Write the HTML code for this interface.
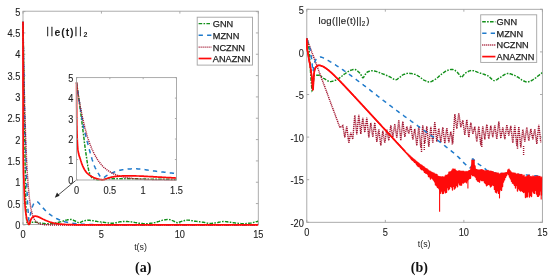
<!DOCTYPE html>
<html><head><meta charset="utf-8"><title>Error norm plots</title>
<style>html,body{margin:0;padding:0;background:#fff;}svg{display:block;}</style></head>
<body><svg width="550" height="278" viewBox="0 0 550 278">
<rect width="550" height="278" fill="#fff"/>
<defs><clipPath id="cl"><rect x="21.8" y="11.2" width="236.5" height="214.8"/></clipPath><clipPath id="ci"><rect x="75.3" y="77.6" width="101.2" height="103.9"/></clipPath><clipPath id="cr"><rect x="305.8" y="9.3" width="236.59999999999997" height="213.0"/></clipPath></defs>
<rect x="23.0" y="11.2" width="235.30" height="213.30" fill="none" stroke="#a3a3a3" stroke-width="0.9"/>
<path d="M23.00 224.50v-2.4M23.00 11.20v2.4M101.43 224.50v-2.4M101.43 11.20v2.4M179.87 224.50v-2.4M179.87 11.20v2.4M258.30 224.50v-2.4M258.30 11.20v2.4M23.00 224.90h2.4M258.30 224.90h-2.4M23.00 203.57h2.4M258.30 203.57h-2.4M23.00 182.24h2.4M258.30 182.24h-2.4M23.00 160.91h2.4M258.30 160.91h-2.4M23.00 139.58h2.4M258.30 139.58h-2.4M23.00 118.25h2.4M258.30 118.25h-2.4M23.00 96.92h2.4M258.30 96.92h-2.4M23.00 75.59h2.4M258.30 75.59h-2.4M23.00 54.26h2.4M258.30 54.26h-2.4M23.00 32.93h2.4M258.30 32.93h-2.4M23.00 11.60h2.4M258.30 11.60h-2.4" stroke="#a3a3a3" stroke-width="0.9" fill="none"/>
<polyline clip-path="url(#cl)" fill="none" stroke="#12901a" stroke-width="1.45" stroke-dasharray="3.6 1.3 1.6 1.3" points="23.0,21.8 23.0,22.7 23.0,23.6 23.0,24.4 23.1,25.3 23.1,26.2 23.1,27.1 23.1,28.0 23.1,28.9 23.1,29.9 23.2,30.8 23.2,31.8 23.2,32.7 23.2,33.7 23.2,34.6 23.2,35.6 23.3,36.6 23.3,37.6 23.3,38.6 23.3,39.6 23.4,45.0 23.5,50.1 23.5,55.2 23.6,60.3 23.7,65.5 23.8,70.7 23.9,76.0 23.9,81.4 24.0,86.8 24.1,92.2 24.2,97.8 24.3,103.3 24.3,108.9 24.4,114.5 24.5,120.1 24.6,125.6 24.6,131.2 24.7,136.6 24.8,142.1 24.9,147.4 25.0,152.6 25.0,157.8 25.1,162.8 25.2,167.7 25.3,172.4 25.4,177.0 25.4,181.8 25.5,186.6 25.6,191.2 25.7,195.4 25.7,199.3 25.8,202.7 25.9,205.6 26.0,208.2 26.1,210.4 26.1,212.4 26.2,214.1 26.3,215.7 26.4,217.0 26.4,218.2 26.5,219.2 26.6,220.0 26.7,220.7 26.8,221.8 27.0,222.5 27.2,223.3 27.5,223.8 28.0,224.3 28.6,224.4 29.2,224.2 29.6,223.7 29.9,223.1 30.2,222.5 30.7,222.2 31.3,222.2 31.9,222.2 32.6,222.2 33.2,222.2 33.8,222.2 34.4,222.2 35.1,222.2 35.7,222.2 36.3,222.3 36.9,222.4 37.6,222.5 38.2,222.7 38.8,222.8 39.5,222.9 40.1,223.0 40.7,223.1 41.3,223.2 42.0,223.3 42.6,223.3 43.2,223.4 43.8,223.5 44.5,223.5 45.1,223.6 45.7,223.6 46.4,223.6 47.0,223.6 47.6,223.6 48.2,223.6 48.9,223.5 49.5,223.5 50.1,223.5 50.7,223.4 51.4,223.4 52.0,223.3 52.6,223.3 53.2,223.2 53.9,223.2 54.5,223.1 55.1,223.0 55.8,222.9 56.4,222.8 57.0,222.6 57.6,222.5 58.3,222.4 58.9,222.2 59.5,222.0 60.1,221.9 60.8,221.7 61.4,221.5 62.0,221.4 62.6,221.2 63.3,221.0 63.9,220.8 64.5,220.6 65.2,220.4 65.8,220.2 66.4,220.1 67.0,220.0 67.7,219.8 68.3,219.7 68.9,219.6 69.5,219.5 70.2,219.4 70.8,219.4 71.4,219.5 72.1,219.7 72.7,219.9 73.3,220.2 73.9,220.5 74.6,220.7 75.2,221.0 75.7,221.3 76.3,221.6 76.8,221.9 77.4,222.2 77.9,222.4 78.5,222.7 79.1,222.9 79.7,222.7 80.3,222.4 80.8,222.1 81.4,221.9 81.9,221.6 82.5,221.3 83.0,221.1 83.6,220.9 84.3,220.7 84.9,220.6 85.5,220.5 86.2,220.4 86.8,220.4 87.4,220.3 88.0,220.3 88.7,220.3 89.3,220.3 89.9,220.3 90.5,220.4 91.2,220.4 91.8,220.5 92.4,220.6 93.0,220.7 93.7,220.8 94.3,220.9 94.9,221.1 95.6,221.2 96.2,221.3 96.8,221.4 97.4,221.5 98.1,221.6 98.7,221.6 99.3,221.7 99.9,221.8 100.6,221.9 101.2,222.0 101.8,222.1 102.5,222.2 103.1,222.2 103.7,222.3 104.3,222.4 105.0,222.5 105.6,222.6 106.2,222.6 106.8,222.7 107.5,222.8 108.1,222.9 108.7,223.0 109.3,223.1 110.0,223.2 110.6,223.2 111.2,223.3 111.9,223.3 112.5,223.3 113.1,223.2 113.7,223.1 114.4,223.0 115.0,222.9 115.6,222.8 116.2,222.7 116.9,222.5 117.5,222.4 118.1,222.2 118.7,222.1 119.4,221.9 120.0,221.8 120.6,221.8 121.3,221.7 121.9,221.6 122.5,221.6 123.1,221.5 123.8,221.5 124.4,221.4 125.0,221.4 125.6,221.4 126.3,221.5 126.9,221.5 127.5,221.5 128.2,221.6 128.8,221.6 129.4,221.7 130.0,221.8 130.7,221.8 131.3,221.9 131.9,222.0 132.5,222.1 133.2,222.2 133.8,222.3 134.4,222.4 135.0,222.5 135.7,222.6 136.3,222.7 136.9,222.8 137.6,223.0 138.2,223.1 138.8,223.2 139.4,223.3 140.1,223.3 140.7,223.4 141.3,223.5 141.9,223.5 142.6,223.5 143.2,223.6 143.8,223.6 144.5,223.6 145.1,223.7 145.7,223.7 146.3,223.6 147.0,223.6 147.6,223.6 148.2,223.5 148.8,223.5 149.5,223.4 150.1,223.3 150.7,223.3 151.3,223.2 152.0,223.1 152.6,223.0 153.2,222.9 153.9,222.8 154.5,222.6 155.1,222.5 155.7,222.3 156.4,222.1 157.0,222.0 157.6,221.8 158.2,221.6 158.9,221.4 159.5,221.2 160.1,221.0 160.7,220.8 161.4,220.6 162.0,220.4 162.6,220.2 163.3,220.1 163.9,220.0 164.5,219.9 165.1,219.8 165.8,219.7 166.4,219.6 167.0,219.5 167.6,219.4 168.3,219.4 168.9,219.5 169.5,219.6 170.2,219.7 170.8,219.9 171.4,220.2 172.0,220.4 172.7,220.6 173.2,220.9 173.8,221.2 174.3,221.5 174.9,221.7 175.4,222.0 175.9,222.3 176.6,222.5 177.2,222.7 177.8,222.7 178.5,222.6 179.0,222.3 179.6,222.0 180.3,221.8 180.9,221.6 181.5,221.4 182.1,221.2 182.8,221.0 183.4,220.8 184.0,220.7 184.6,220.5 185.3,220.4 185.9,220.3 186.5,220.2 187.2,220.1 187.8,220.1 188.4,220.1 189.0,220.2 189.7,220.2 190.3,220.3 190.9,220.4 191.5,220.6 192.2,220.7 192.8,220.8 193.4,220.9 194.0,221.0 194.7,221.2 195.3,221.3 195.9,221.3 196.6,221.4 197.2,221.5 197.8,221.6 198.4,221.7 199.1,221.7 199.7,221.8 200.3,221.9 200.9,222.0 201.6,222.0 202.2,222.1 202.8,222.2 203.5,222.3 204.1,222.4 204.7,222.5 205.3,222.6 206.0,222.8 206.6,222.9 207.2,223.1 207.8,223.2 208.5,223.3 209.1,223.4 209.7,223.4 210.3,223.4 211.0,223.4 211.6,223.4 212.2,223.3 212.9,223.3 213.5,223.2 214.1,223.1 214.7,223.0 215.4,222.9 216.0,222.8 216.6,222.7 217.2,222.6 217.9,222.5 218.5,222.3 219.1,222.2 219.7,222.1 220.4,221.9 221.0,221.8 221.6,221.7 222.3,221.6 222.9,221.5 223.5,221.5 224.1,221.5 224.8,221.5 225.4,221.6 226.0,221.6 226.6,221.7 227.3,221.8 227.9,221.9 228.5,221.9 229.2,222.0 229.8,222.1 230.4,222.2 231.0,222.3 231.7,222.4 232.3,222.5 232.9,222.6 233.5,222.7 234.2,222.8 234.8,222.9 235.4,223.0 236.0,223.1 236.7,223.2 237.3,223.3 237.9,223.3 238.6,223.4 239.2,223.5 239.8,223.5 240.4,223.5 241.1,223.6 241.7,223.6 242.3,223.6 242.9,223.7 243.6,223.7 244.2,223.6 244.8,223.6 245.4,223.6 246.1,223.5 246.7,223.5 247.3,223.4 248.0,223.4 248.6,223.3 249.2,223.2 249.8,223.1 250.5,223.1 251.1,223.0 251.7,222.8 252.3,222.7 253.0,222.6 253.6,222.4 254.2,222.3 254.9,222.2 255.5,222.0 256.1,221.8 256.7,221.6 257.4,221.5 258.0,221.2 258.3,221.1"/>
<polyline clip-path="url(#cl)" fill="none" stroke="#1f7acb" stroke-width="1.5" stroke-dasharray="4.3 4.2" points="23.0,21.8 23.0,22.8 23.0,23.8 23.0,24.8 23.1,25.8 23.1,26.7 23.1,27.7 23.1,28.7 23.1,29.7 23.1,30.6 23.2,31.6 23.2,32.6 23.2,33.6 23.2,34.6 23.2,35.5 23.2,36.5 23.3,37.5 23.3,38.4 23.3,39.4 23.3,40.4 23.4,45.5 23.5,50.2 23.5,54.8 23.6,59.4 23.7,63.9 23.8,68.3 23.9,72.8 23.9,77.2 24.0,81.7 24.1,86.1 24.2,90.4 24.3,94.6 24.3,98.7 24.4,102.6 24.5,106.4 24.6,110.0 24.6,113.5 24.7,116.7 24.8,119.8 24.9,122.8 25.0,125.6 25.0,128.4 25.1,131.1 25.2,133.7 25.3,136.3 25.4,138.9 25.4,141.5 25.5,144.1 25.6,146.7 25.7,149.3 25.7,152.0 25.8,154.7 25.9,157.3 26.0,160.0 26.1,162.7 26.1,165.3 26.2,167.9 26.3,170.5 26.4,173.0 26.4,175.4 26.5,177.8 26.6,180.1 26.7,182.4 26.8,184.5 26.8,186.6 26.9,188.7 27.0,190.6 27.1,192.5 27.2,194.2 27.2,195.9 27.3,197.6 27.4,199.2 27.5,200.7 27.5,202.2 27.6,203.6 27.7,205.0 27.8,206.3 27.9,207.5 27.9,208.7 28.0,209.9 28.1,211.0 28.2,212.0 28.3,213.1 28.3,214.2 28.4,215.3 28.5,216.4 28.6,217.4 28.6,218.2 28.7,219.0 28.9,220.0 29.1,220.6 29.4,219.9 29.6,219.1 29.7,218.0 29.9,216.8 30.1,215.9 30.2,215.2 30.4,214.4 30.5,213.7 30.7,213.0 30.8,212.3 31.0,211.6 31.1,211.0 31.3,210.3 31.5,209.5 31.8,208.7 32.0,208.0 32.2,207.3 32.5,206.6 32.7,205.9 33.0,205.3 33.2,204.7 33.5,204.0 33.8,203.5 34.3,203.0 34.8,202.5 35.2,202.1 35.8,201.7 36.4,201.5 37.0,201.5 37.6,201.8 38.0,202.2 38.5,202.7 38.9,203.1 39.3,203.6 39.7,204.1 40.1,204.6 40.5,205.2 40.9,205.7 41.3,206.1 41.7,206.7 42.2,207.2 42.7,207.6 43.1,208.1 43.6,208.6 44.1,209.1 44.5,209.6 45.0,210.1 45.5,210.5 46.0,211.0 46.4,211.4 46.9,211.9 47.4,212.3 47.8,212.7 48.3,213.1 48.8,213.5 49.2,213.9 49.8,214.3 50.3,214.7 50.9,215.1 51.4,215.5 52.0,215.9 52.5,216.2 53.1,216.6 53.6,216.9 54.2,217.3 54.7,217.6 55.3,217.9 55.8,218.2 56.4,218.5 56.9,218.7 57.5,219.0 58.0,219.3 58.6,219.5 59.2,219.8 59.8,220.0 60.5,220.3 61.1,220.5 61.7,220.7 62.3,220.9 63.0,221.1 63.6,221.3 64.2,221.5 64.8,221.7 65.5,221.9 66.1,222.0 66.7,222.2 67.3,222.3 68.0,222.5 68.6,222.6 69.2,222.7 69.9,222.8 70.5,222.9 71.1,223.0 71.7,223.1 72.4,223.2 73.0,223.3 73.6,223.4 74.2,223.5 74.9,223.6 75.5,223.6 76.1,223.7 76.8,223.8 77.4,223.8 78.0,223.9 78.6,223.9 79.3,224.0 79.9,224.1 80.5,224.1 81.1,224.1 81.8,224.2 82.4,224.2 83.0,224.3 83.6,224.3 84.3,224.3 84.9,224.4 85.5,224.4 86.2,224.4 86.8,224.4 87.4,224.5 88.0,224.5 88.7,224.5 89.3,224.5 89.9,224.6 90.5,224.6 91.2,224.6 91.8,224.6 92.4,224.6 93.0,224.6 93.7,224.7 94.3,224.7 94.9,224.7 95.6,224.7 96.2,224.7 96.8,224.7 97.4,224.7 98.1,224.7 98.7,224.7 99.3,224.8 99.9,224.8 100.6,224.8 101.2,224.8 101.8,224.8 102.5,224.8 103.1,224.8 103.7,224.8 104.3,224.8 105.0,224.8 105.6,224.8 106.2,224.8 106.8,224.8 107.5,224.8 108.1,224.8 108.7,224.8 109.3,224.8 110.0,224.8 110.6,224.8 111.2,224.8 111.9,224.9 112.5,224.9 113.1,224.9 113.7,224.9 114.4,224.9 115.0,224.9 115.6,224.9 116.2,224.9 116.9,224.9 117.5,224.9 118.1,224.9 118.7,224.9 119.4,224.9 120.0,224.9 120.6,224.9 121.3,224.9 121.9,224.9 122.5,224.9 123.1,224.9 123.8,224.9 124.4,224.9 125.0,224.9 125.6,224.9 126.3,224.9 126.9,224.9 127.5,224.9 128.2,224.9 128.8,224.9 129.4,224.9 130.0,224.9 130.7,224.9 131.3,224.9 131.9,224.9 132.5,224.9 133.2,224.9 133.8,224.9 134.4,224.9 135.0,224.9 135.7,224.9 136.3,224.9 136.9,224.9 137.6,224.9 138.2,224.9 138.8,224.9 139.4,224.9 140.1,224.9 140.7,224.9 141.3,224.9 141.9,224.9 142.6,224.9 143.2,224.9 143.8,224.9 144.5,224.9 145.1,224.9 145.7,224.9 146.3,224.9 147.0,224.9 147.6,224.9 148.2,224.9 148.8,224.9 149.5,224.9 150.1,224.9 150.7,224.9 151.3,224.9 152.0,224.9 152.6,224.9 153.2,224.9 153.9,224.9 154.5,224.9 155.1,224.9 155.7,224.9 156.4,224.9 157.0,224.9 157.6,224.9 158.2,224.9 158.9,224.9 159.5,224.9 160.1,224.9 160.7,224.9 161.4,224.9 162.0,224.9 162.6,224.9 163.3,224.9 163.9,224.9 164.5,224.9 165.1,224.9 165.8,224.9 166.4,224.9 167.0,224.9 167.6,224.9 168.3,224.9 168.9,224.9 169.5,224.9 170.2,224.9 170.8,224.9 171.4,224.9 172.0,224.9 172.7,224.9 173.3,224.9 173.9,224.9 174.5,224.9 175.2,224.9 175.8,224.9 176.4,224.9 177.0,224.9 177.7,224.9 178.3,224.9 178.9,224.9 179.6,224.9 180.2,224.9 180.8,224.9 181.4,224.9 182.1,224.9 182.7,224.9 183.3,224.9 183.9,224.9 184.6,224.9 185.2,224.9 185.8,224.9 186.4,224.9 187.1,224.9 187.7,224.9 188.3,224.9 189.0,224.9 189.6,224.9 190.2,224.9 190.8,224.9 191.5,224.9 192.1,224.9 192.7,224.9 193.3,224.9 194.0,224.9 194.6,224.9 195.2,224.9 195.9,224.9 196.5,224.9 197.1,224.9 197.7,224.9 198.4,224.9 199.0,224.9 199.6,224.9 200.2,224.9 200.9,224.9 201.5,224.9 202.1,224.9 202.7,224.9 203.4,224.9 204.0,224.9 204.6,224.9 205.3,224.9 205.9,224.9 206.5,224.9 207.1,224.9 207.8,224.9 208.4,224.9 209.0,224.9 209.6,224.9 210.3,224.9 210.9,224.9 211.5,224.9 212.1,224.9 212.8,224.9 213.4,224.9 214.0,224.9 214.7,224.9 215.3,224.9 215.9,224.9 216.5,224.9 217.2,224.9 217.8,224.9 218.4,224.9 219.0,224.9 219.7,224.9 220.3,224.9 220.9,224.9 221.6,224.9 222.2,224.9 222.8,224.9 223.4,224.9 224.1,224.9 224.7,224.9 225.3,224.9 225.9,224.9 226.6,224.9 227.2,224.9 227.8,224.9 228.4,224.9 229.1,224.9 229.7,224.9 230.3,224.9 231.0,224.9 231.6,224.9 232.2,224.9 232.8,224.9 233.5,224.9 234.1,224.9 234.7,224.9 235.3,224.9 236.0,224.9 236.6,224.9 237.2,224.9 237.8,224.9 238.5,224.9 239.1,224.9 239.7,224.9 240.4,224.9 241.0,224.9 241.6,224.9 242.2,224.9 242.9,224.9 243.5,224.9 244.1,224.9 244.7,224.9 245.4,224.9 246.0,224.9 246.6,224.9 247.3,224.9 247.9,224.9 248.5,224.9 249.1,224.9 249.8,224.9 250.4,224.9 251.0,224.9 251.6,224.9 252.3,224.9 252.9,224.9 253.5,224.9 254.1,224.9 254.8,224.9 255.4,224.9 256.0,224.9 256.7,224.9 257.3,224.9 257.9,224.9 258.3,224.9"/>
<polyline clip-path="url(#cl)" fill="none" stroke="#a2142f" stroke-width="1.45" stroke-dasharray="1.1 0.9" points="23.0,21.8 23.0,22.9 23.0,23.9 23.0,24.9 23.1,25.9 23.1,26.9 23.1,27.9 23.1,28.9 23.1,29.9 23.1,30.9 23.2,31.9 23.2,32.9 23.2,33.8 23.2,34.8 23.2,35.8 23.2,36.7 23.3,37.7 23.3,38.6 23.3,39.6 23.3,40.5 23.4,45.5 23.5,49.9 23.5,54.1 23.6,58.3 23.7,62.4 23.8,66.3 23.9,70.2 23.9,74.0 24.0,77.7 24.1,81.3 24.2,84.8 24.3,88.2 24.3,91.5 24.4,94.8 24.5,98.0 24.6,101.1 24.6,104.1 24.7,107.0 24.8,109.9 24.9,112.7 25.0,115.5 25.0,118.1 25.1,120.8 25.2,123.3 25.3,125.8 25.4,128.2 25.4,130.6 25.5,132.9 25.6,135.1 25.7,137.3 25.7,139.4 25.8,141.5 25.9,143.6 26.0,145.6 26.1,147.5 26.1,149.4 26.2,151.2 26.3,153.0 26.4,154.8 26.4,156.5 26.5,158.2 26.6,159.8 26.7,161.4 26.8,162.9 26.8,164.4 26.9,165.9 27.0,167.4 27.1,168.8 27.2,170.1 27.2,171.5 27.3,172.8 27.4,174.1 27.5,175.3 27.5,176.5 27.6,177.7 27.7,178.8 27.8,180.0 27.9,181.1 27.9,182.1 28.0,183.2 28.1,184.2 28.2,185.2 28.3,186.2 28.3,187.1 28.4,188.0 28.5,188.9 28.6,189.8 28.6,190.7 28.7,191.5 28.8,192.3 28.9,193.1 29.0,193.9 29.0,194.6 29.1,195.4 29.2,196.1 29.3,196.8 29.3,197.5 29.4,198.2 29.5,198.8 29.6,199.5 29.7,200.1 29.7,200.7 29.9,201.9 30.1,203.0 30.2,204.0 30.4,205.0 30.5,206.0 30.7,206.9 30.8,207.8 31.0,208.6 31.1,209.4 31.3,210.1 31.5,210.8 31.6,211.5 31.8,212.2 31.9,212.8 32.1,213.4 32.3,214.2 32.6,215.0 32.8,215.7 33.0,216.3 33.3,216.9 33.5,217.5 33.8,218.2 34.1,218.8 34.4,219.4 34.8,219.9 35.1,220.5 35.5,221.0 36.0,221.5 36.5,222.0 36.9,222.4 37.5,222.8 38.0,223.1 38.6,223.4 39.2,223.7 39.8,223.9 40.5,224.1 41.1,224.2 41.7,224.3 42.4,224.4 43.0,224.5 43.6,224.6 44.2,224.7 44.9,224.7 45.5,224.7 46.1,224.8 46.7,224.8 47.4,224.8 48.0,224.8 48.6,224.8 49.2,224.8 49.9,224.9 50.5,224.9 51.1,224.9 51.8,224.9 52.4,224.9 53.0,224.9 53.6,224.9 54.3,224.9 54.9,224.9 55.5,224.9 56.1,224.9 56.8,224.9 57.4,224.9 58.0,224.9 58.7,224.9 59.3,224.9 59.9,224.9 60.5,224.9 61.2,224.9 61.8,224.9 62.4,224.9 63.0,224.9 63.7,224.9 64.3,224.9 64.9,224.9 65.5,224.9 66.2,224.9 66.8,224.9 67.4,224.9 68.1,224.9 68.7,224.9 69.3,224.9 69.9,224.9 70.6,224.9 71.2,224.9 71.8,224.9 72.4,224.9 73.1,224.9 73.7,224.9 74.3,224.9 74.9,224.9 75.6,224.9 76.2,224.9 76.8,224.9 77.5,224.9 78.1,224.9 78.7,224.9 79.3,224.9 80.0,224.9 80.6,224.9 81.2,224.9 81.8,224.9 82.5,224.9 83.1,224.9 83.7,224.9 84.4,224.9 85.0,224.9 85.6,224.9 86.2,224.9 86.9,224.9 87.5,224.9 88.1,224.9 88.7,224.9 89.4,224.9 90.0,224.9 90.6,224.9 91.2,224.9 91.9,224.9 92.5,224.9 93.1,224.9 93.8,224.9 94.4,224.9 95.0,224.9 95.6,224.9 96.3,224.9 96.9,224.9 97.5,224.9 98.1,224.9 98.8,224.9 99.4,224.9 100.0,224.9 100.6,224.9 101.3,224.9 101.9,224.9 102.5,224.9 103.2,224.9 103.8,224.9 104.4,224.9 105.0,224.9 105.7,224.9 106.3,224.9 106.9,224.9 107.5,224.9 108.2,224.9 108.8,224.9 109.4,224.9 110.1,224.9 110.7,224.9 111.3,224.9 111.9,224.9 112.6,224.9 113.2,224.9 113.8,224.9 114.4,224.9 115.1,224.9 115.7,224.9 116.3,224.9 116.9,224.9 117.6,224.9 118.2,224.9 118.8,224.9 119.5,224.9 120.1,224.9 120.7,224.9 121.3,224.9 122.0,224.9 122.6,224.9 123.2,224.9 123.8,224.9 124.5,224.9 125.1,224.9 125.7,224.9 126.4,224.9 127.0,224.9 127.6,224.9 128.2,224.9 128.9,224.9 129.5,224.9 130.1,224.9 130.7,224.9 131.4,224.9 132.0,224.9 132.6,224.9 133.2,224.9 133.9,224.9 134.5,224.9 135.1,224.9 135.8,224.9 136.4,224.9 137.0,224.9 137.6,224.9 138.3,224.9 138.9,224.9 139.5,224.9 140.1,224.9 140.8,224.9 141.4,224.9 142.0,224.9 142.6,224.9 143.3,224.9 143.9,224.9 144.5,224.9 145.2,224.9 145.8,224.9 146.4,224.9 147.0,224.9 147.7,224.9 148.3,224.9 148.9,224.9 149.5,224.9 150.2,224.9 150.8,224.9 151.4,224.9 152.1,224.9 152.7,224.9 153.3,224.9 153.9,224.9 154.6,224.9 155.2,224.9 155.8,224.9 156.4,224.9 157.1,224.9 157.7,224.9 158.3,224.9 158.9,224.9 159.6,224.9 160.2,224.9 160.8,224.9 161.5,224.9 162.1,224.9 162.7,224.9 163.3,224.9 164.0,224.9 164.6,224.9 165.2,224.9 165.8,224.9 166.5,224.9 167.1,224.9 167.7,224.9 168.3,224.9 169.0,224.9 169.6,224.9 170.2,224.9 170.9,224.9 171.5,224.9 172.1,224.9 172.7,224.9 173.4,224.9 174.0,224.9 174.6,224.9 175.2,224.9 175.9,224.9 176.5,224.9 177.1,224.9 177.8,224.9 178.4,224.9 179.0,224.9 179.6,224.9 180.3,224.9 180.9,224.9 181.5,224.9 182.1,224.9 182.8,224.9 183.4,224.9 184.0,224.9 184.6,224.9 185.3,224.9 185.9,224.9 186.5,224.9 187.2,224.9 187.8,224.9 188.4,224.9 189.0,224.9 189.7,224.9 190.3,224.9 190.9,224.9 191.5,224.9 192.2,224.9 192.8,224.9 193.4,224.9 194.0,224.9 194.7,224.9 195.3,224.9 195.9,224.9 196.6,224.9 197.2,224.9 197.8,224.9 198.4,224.9 199.1,224.9 199.7,224.9 200.3,224.9 200.9,224.9 201.6,224.9 202.2,224.9 202.8,224.9 203.5,224.9 204.1,224.9 204.7,224.9 205.3,224.9 206.0,224.9 206.6,224.9 207.2,224.9 207.8,224.9 208.5,224.9 209.1,224.9 209.7,224.9 210.3,224.9 211.0,224.9 211.6,224.9 212.2,224.9 212.9,224.9 213.5,224.9 214.1,224.9 214.7,224.9 215.4,224.9 216.0,224.9 216.6,224.9 217.2,224.9 217.9,224.9 218.5,224.9 219.1,224.9 219.7,224.9 220.4,224.9 221.0,224.9 221.6,224.9 222.3,224.9 222.9,224.9 223.5,224.9 224.1,224.9 224.8,224.9 225.4,224.9 226.0,224.9 226.6,224.9 227.3,224.9 227.9,224.9 228.5,224.9 229.2,224.9 229.8,224.9 230.4,224.9 231.0,224.9 231.7,224.9 232.3,224.9 232.9,224.9 233.5,224.9 234.2,224.9 234.8,224.9 235.4,224.9 236.0,224.9 236.7,224.9 237.3,224.9 237.9,224.9 238.6,224.9 239.2,224.9 239.8,224.9 240.4,224.9 241.1,224.9 241.7,224.9 242.3,224.9 242.9,224.9 243.6,224.9 244.2,224.9 244.8,224.9 245.4,224.9 246.1,224.9 246.7,224.9 247.3,224.9 248.0,224.9 248.6,224.9 249.2,224.9 249.8,224.9 250.5,224.9 251.1,224.9 251.7,224.9 252.3,224.9 253.0,224.9 253.6,224.9 254.2,224.9 254.9,224.9 255.5,224.9 256.1,224.9 256.7,224.9 257.4,224.9 258.0,224.9 258.3,224.9"/>
<polyline clip-path="url(#cl)" fill="none" stroke="#ff0a0a" stroke-width="1.7" stroke-linejoin="round" points="23.0,21.8 23.0,35.1 23.0,47.5 23.0,59.0 23.0,69.5 23.0,78.9 23.0,87.3 23.1,94.6 23.1,100.7 23.1,105.8 23.1,109.9 23.1,113.4 23.1,116.8 23.1,119.9 23.1,122.9 23.1,125.6 23.1,128.3 23.1,130.7 23.1,133.0 23.2,135.2 23.2,137.3 23.2,139.2 23.2,141.1 23.2,142.8 23.2,144.4 23.2,146.0 23.2,147.4 23.2,148.8 23.2,150.1 23.2,151.3 23.2,152.4 23.2,153.5 23.3,154.5 23.3,155.4 23.3,156.3 23.3,157.1 23.3,157.9 23.3,158.7 23.3,159.3 23.3,160.0 23.4,165.2 23.5,169.1 23.5,172.1 23.6,174.5 23.7,176.6 23.8,178.6 23.9,180.5 23.9,182.6 24.0,184.8 24.1,187.0 24.2,189.0 24.3,190.9 24.3,192.8 24.4,194.5 24.5,196.2 24.6,197.7 24.6,199.2 24.7,200.6 24.8,201.9 24.9,203.2 25.0,204.3 25.0,205.4 25.1,206.5 25.2,207.4 25.3,208.3 25.4,209.2 25.4,210.0 25.5,210.7 25.6,211.4 25.7,212.0 25.7,212.6 25.9,213.7 26.1,214.7 26.2,215.6 26.4,216.5 26.5,217.3 26.7,218.1 26.8,218.9 27.0,219.6 27.2,220.2 27.3,220.8 27.5,221.6 27.8,222.3 28.0,222.8 28.3,223.5 28.6,224.1 29.2,224.4 29.6,223.9 29.8,223.0 30.0,222.3 30.2,221.6 30.4,220.9 30.7,220.2 30.9,219.6 31.2,219.0 31.5,218.5 31.9,217.9 32.3,217.5 32.8,217.1 33.3,216.7 33.9,216.4 34.5,216.2 35.1,216.1 35.8,216.2 36.4,216.3 37.0,216.4 37.7,216.6 38.3,216.9 38.9,217.1 39.5,217.4 40.0,217.6 40.6,217.9 41.1,218.2 41.6,218.4 42.2,218.7 42.7,219.0 43.3,219.3 43.8,219.5 44.4,219.8 44.9,220.1 45.5,220.3 46.0,220.6 46.7,220.8 47.3,221.1 47.9,221.3 48.5,221.6 49.2,221.8 49.8,222.0 50.4,222.2 51.1,222.4 51.7,222.6 52.3,222.7 52.9,222.9 53.6,223.0 54.2,223.2 54.8,223.3 55.4,223.4 56.1,223.5 56.7,223.6 57.3,223.7 57.9,223.8 58.6,223.9 59.2,224.0 59.8,224.0 60.5,224.1 61.1,224.2 61.7,224.2 62.3,224.3 63.0,224.3 63.6,224.4 64.2,224.4 64.8,224.4 65.5,224.5 66.1,224.5 66.7,224.5 67.3,224.6 68.0,224.6 68.6,224.6 69.2,224.6 69.9,224.7 70.5,224.7 71.1,224.7 71.7,224.7 72.4,224.7 73.0,224.7 73.6,224.7 74.2,224.8 74.9,224.8 75.5,224.8 76.1,224.8 76.8,224.8 77.4,224.8 78.0,224.8 78.6,224.8 79.3,224.8 79.9,224.8 80.5,224.8 81.1,224.8 81.8,224.8 82.4,224.8 83.0,224.9 83.6,224.9 84.3,224.9 84.9,224.9 85.5,224.9 86.2,224.9 86.8,224.9 87.4,224.9 88.0,224.9 88.7,224.9 89.3,224.9 89.9,224.9 90.5,224.9 91.2,224.9 91.8,224.9 92.4,224.9 93.0,224.9 93.7,224.9 94.3,224.9 94.9,224.9 95.6,224.9 96.2,224.9 96.8,224.9 97.4,224.9 98.1,224.9 98.7,224.9 99.3,224.9 99.9,224.9 100.6,224.9 101.2,224.9 101.8,224.9 102.5,224.9 103.1,224.9 103.7,224.9 104.3,224.9 105.0,224.9 105.6,224.9 106.2,224.9 106.8,224.9 107.5,224.9 108.1,224.9 108.7,224.9 109.3,224.9 110.0,224.9 110.6,224.9 111.2,224.9 111.9,224.9 112.5,224.9 113.1,224.9 113.7,224.9 114.4,224.9 115.0,224.9 115.6,224.9 116.2,224.9 116.9,224.9 117.5,224.9 118.1,224.9 118.7,224.9 119.4,224.9 120.0,224.9 120.6,224.9 121.3,224.9 121.9,224.9 122.5,224.9 123.1,224.9 123.8,224.9 124.4,224.9 125.0,224.9 125.6,224.9 126.3,224.9 126.9,224.9 127.5,224.9 128.2,224.9 128.8,224.9 129.4,224.9 130.0,224.9 130.7,224.9 131.3,224.9 131.9,224.9 132.5,224.9 133.2,224.9 133.8,224.9 134.4,224.9 135.0,224.9 135.7,224.9 136.3,224.9 136.9,224.9 137.6,224.9 138.2,224.9 138.8,224.9 139.4,224.9 140.1,224.9 140.7,224.9 141.3,224.9 141.9,224.9 142.6,224.9 143.2,224.9 143.8,224.9 144.5,224.9 145.1,224.9 145.7,224.9 146.3,224.9 147.0,224.9 147.6,224.9 148.2,224.9 148.8,224.9 149.5,224.9 150.1,224.9 150.7,224.9 151.3,224.9 152.0,224.9 152.6,224.9 153.2,224.9 153.9,224.9 154.5,224.9 155.1,224.9 155.7,224.9 156.4,224.9 157.0,224.9 157.6,224.9 158.2,224.9 158.9,224.9 159.5,224.9 160.1,224.9 160.7,224.9 161.4,224.9 162.0,224.9 162.6,224.9 163.3,224.9 163.9,224.9 164.5,224.9 165.1,224.9 165.8,224.9 166.4,224.9 167.0,224.9 167.6,224.9 168.3,224.9 168.9,224.9 169.5,224.9 170.2,224.9 170.8,224.9 171.4,224.9 172.0,224.9 172.7,224.9 173.3,224.9 173.9,224.9 174.5,224.9 175.2,224.9 175.8,224.9 176.4,224.9 177.0,224.9 177.7,224.9 178.3,224.9 178.9,224.9 179.6,224.9 180.2,224.9 180.8,224.9 181.4,224.9 182.1,224.9 182.7,224.9 183.3,224.9 183.9,224.9 184.6,224.9 185.2,224.9 185.8,224.9 186.4,224.9 187.1,224.9 187.7,224.9 188.3,224.9 189.0,224.9 189.6,224.9 190.2,224.9 190.8,224.9 191.5,224.9 192.1,224.9 192.7,224.9 193.3,224.9 194.0,224.9 194.6,224.9 195.2,224.9 195.9,224.9 196.5,224.9 197.1,224.9 197.7,224.9 198.4,224.9 199.0,224.9 199.6,224.9 200.2,224.9 200.9,224.9 201.5,224.9 202.1,224.9 202.7,224.9 203.4,224.9 204.0,224.9 204.6,224.9 205.3,224.9 205.9,224.9 206.5,224.9 207.1,224.9 207.8,224.9 208.4,224.9 209.0,224.9 209.6,224.9 210.3,224.9 210.9,224.9 211.5,224.9 212.1,224.9 212.8,224.9 213.4,224.9 214.0,224.9 214.7,224.9 215.3,224.9 215.9,224.9 216.5,224.9 217.2,224.9 217.8,224.9 218.4,224.9 219.0,224.9 219.7,224.9 220.3,224.9 220.9,224.9 221.6,224.9 222.2,224.9 222.8,224.9 223.4,224.9 224.1,224.9 224.7,224.9 225.3,224.9 225.9,224.9 226.6,224.9 227.2,224.9 227.8,224.9 228.4,224.9 229.1,224.9 229.7,224.9 230.3,224.9 231.0,224.9 231.6,224.9 232.2,224.9 232.8,224.9 233.5,224.9 234.1,224.9 234.7,224.9 235.3,224.9 236.0,224.9 236.6,224.9 237.2,224.9 237.8,224.9 238.5,224.9 239.1,224.9 239.7,224.9 240.4,224.9 241.0,224.9 241.6,224.9 242.2,224.9 242.9,224.9 243.5,224.9 244.1,224.9 244.7,224.9 245.4,224.9 246.0,224.9 246.6,224.9 247.3,224.9 247.9,224.9 248.5,224.9 249.1,224.9 249.8,224.9 250.4,224.9 251.0,224.9 251.6,224.9 252.3,224.9 252.9,224.9 253.5,224.9 254.1,224.9 254.8,224.9 255.4,224.9 256.0,224.9 256.7,224.9 257.3,224.9 257.9,224.9 258.3,224.9"/>
<g font-family="'Liberation Sans', sans-serif" fill="#1e1e1e" stroke="#1e1e1e" stroke-width="0.12"><text transform="translate(20.30,228.90) scale(0.87,1)" text-anchor="end" font-size="10.6" >0</text><text transform="translate(20.30,207.57) scale(0.87,1)" text-anchor="end" font-size="10.6" >0.5</text><text transform="translate(20.30,186.24) scale(0.87,1)" text-anchor="end" font-size="10.6" >1</text><text transform="translate(20.30,164.91) scale(0.87,1)" text-anchor="end" font-size="10.6" >1.5</text><text transform="translate(20.30,143.58) scale(0.87,1)" text-anchor="end" font-size="10.6" >2</text><text transform="translate(20.30,122.25) scale(0.87,1)" text-anchor="end" font-size="10.6" >2.5</text><text transform="translate(20.30,100.92) scale(0.87,1)" text-anchor="end" font-size="10.6" >3</text><text transform="translate(20.30,79.59) scale(0.87,1)" text-anchor="end" font-size="10.6" >3.5</text><text transform="translate(20.30,58.26) scale(0.87,1)" text-anchor="end" font-size="10.6" >4</text><text transform="translate(20.30,36.93) scale(0.87,1)" text-anchor="end" font-size="10.6" >4.5</text><text transform="translate(20.30,15.60) scale(0.87,1)" text-anchor="end" font-size="10.6" >5</text><text transform="translate(23.00,238.00) scale(0.87,1)" text-anchor="middle" font-size="10.6" >0</text><text transform="translate(101.43,238.00) scale(0.87,1)" text-anchor="middle" font-size="10.6" >5</text><text transform="translate(179.87,238.00) scale(0.87,1)" text-anchor="middle" font-size="10.6" >10</text><text transform="translate(258.30,238.00) scale(0.87,1)" text-anchor="middle" font-size="10.6" >15</text></g>
<rect x="76.5" y="77.6" width="100.0" height="102.4" fill="#fff"/>
<polyline clip-path="url(#ci)" fill="none" stroke="#12901a" stroke-width="1.45" stroke-dasharray="3.6 1.3 1.6 1.3" points="76.5,82.5 76.6,83.1 76.7,83.8 76.8,84.4 76.9,85.0 77.0,85.7 77.1,86.4 77.2,87.0 77.3,87.7 77.4,88.4 77.5,89.1 77.6,89.8 77.7,90.6 77.8,91.3 77.9,92.0 78.0,92.7 78.1,93.4 78.2,94.1 78.3,94.8 78.4,95.5 78.5,96.3 78.6,97.0 78.7,97.7 78.8,98.4 78.9,99.2 79.0,99.9 79.1,100.6 79.2,101.4 79.3,102.1 79.4,102.8 79.5,103.6 79.6,104.3 79.7,105.1 79.8,105.8 79.9,106.5 80.0,107.3 80.1,108.1 80.2,108.8 80.3,109.6 80.4,110.3 80.5,111.1 80.6,111.9 80.7,112.6 80.8,113.4 80.9,114.2 81.0,115.0 81.1,115.7 81.2,116.5 81.3,117.3 81.4,118.1 81.5,118.9 81.6,119.7 81.7,120.4 81.8,121.2 81.9,122.0 82.0,122.8 82.1,123.6 82.2,124.4 82.3,125.2 82.4,126.0 82.5,126.8 82.6,127.6 82.7,128.4 82.8,129.2 82.9,130.0 83.0,130.8 83.1,131.6 83.2,132.4 83.3,133.1 83.4,133.9 83.5,134.7 83.6,135.5 83.7,136.3 83.8,137.1 83.9,137.8 84.0,138.6 84.1,139.4 84.2,140.1 84.2,140.9 84.3,141.7 84.4,142.4 84.5,143.2 84.6,143.9 84.7,144.7 84.8,145.4 84.9,146.2 85.0,146.9 85.1,147.6 85.2,148.3 85.3,149.1 85.4,149.8 85.5,150.5 85.6,151.2 85.7,151.9 85.8,152.5 85.9,153.2 86.0,153.9 86.1,154.6 86.2,155.2 86.3,155.9 86.4,156.5 86.5,157.2 86.6,157.9 86.7,158.6 86.8,159.2 86.9,159.9 87.0,160.6 87.1,161.3 87.2,162.0 87.3,162.6 87.4,163.3 87.5,163.9 87.6,164.5 87.7,165.1 87.8,165.9 88.0,166.7 88.1,167.4 88.2,168.1 88.4,168.7 88.5,169.4 88.7,170.1 88.8,170.7 89.0,171.4 89.2,172.1 89.4,172.7 89.6,173.3 89.8,173.9 90.0,174.6 90.3,175.2 90.6,175.7 90.9,176.3 91.2,176.8 91.6,177.3 91.9,177.8 92.4,178.2 92.9,178.6 93.5,178.9 94.1,179.1 94.6,179.3 95.2,179.4 95.8,179.5 96.5,179.6 97.1,179.7 97.7,179.7 98.3,179.8 99.0,179.8 99.6,179.8 100.2,179.8 100.8,179.8 101.5,179.7 102.1,179.7 102.7,179.7 103.3,179.6 104.0,179.5 104.6,179.4 105.2,179.3 105.8,179.2 106.4,179.0 106.9,178.9 107.5,178.8 108.2,178.7 108.8,178.7 109.4,178.7 110.0,178.7 110.7,178.7 111.3,178.7 111.9,178.7 112.5,178.7 113.2,178.7 113.8,178.7 114.4,178.7 115.0,178.7 115.7,178.7 116.3,178.7 116.9,178.7 117.5,178.7 118.2,178.7 118.8,178.7 119.4,178.7 120.0,178.7 120.7,178.7 121.3,178.7 121.9,178.7 122.5,178.7 123.2,178.7 123.8,178.7 124.4,178.7 125.0,178.7 125.7,178.7 126.3,178.7 126.9,178.7 127.5,178.7 128.2,178.7 128.8,178.7 129.4,178.7 130.0,178.7 130.7,178.7 131.3,178.7 131.9,178.7 132.5,178.7 133.2,178.8 133.8,178.8 134.4,178.8 135.0,178.8 135.7,178.8 136.3,178.8 136.9,178.8 137.5,178.8 138.2,178.9 138.8,178.9 139.4,178.9 140.0,178.9 140.7,178.9 141.3,178.9 141.9,179.0 142.5,179.0 143.2,179.0 143.8,179.0 144.4,179.0 145.0,179.0 145.7,179.0 146.3,179.0 146.9,179.1 147.5,179.1 148.2,179.1 148.8,179.1 149.4,179.1 150.0,179.1 150.7,179.1 151.3,179.1 151.9,179.1 152.5,179.1 153.2,179.2 153.8,179.2 154.4,179.2 155.0,179.2 155.7,179.2 156.3,179.2 156.9,179.2 157.5,179.2 158.2,179.2 158.8,179.2 159.4,179.2 160.1,179.3 160.7,179.3 161.3,179.3 161.9,179.3 162.6,179.3 163.2,179.3 163.8,179.3 164.4,179.3 165.1,179.3 165.7,179.3 166.3,179.3 166.9,179.3 167.6,179.3 168.2,179.3 168.8,179.3 169.4,179.3 170.1,179.4 170.7,179.4 171.3,179.4 171.9,179.4 172.6,179.4 173.2,179.4 173.8,179.4 174.4,179.4 175.1,179.4 175.7,179.4 176.3,179.4 176.5,179.4"/>
<polyline clip-path="url(#ci)" fill="none" stroke="#1f7acb" stroke-width="1.5" stroke-dasharray="4.3 4.2" points="76.5,82.5 76.6,83.2 76.7,83.9 76.8,84.6 76.9,85.3 77.0,86.0 77.1,86.7 77.2,87.4 77.3,88.2 77.4,88.9 77.5,89.6 77.6,90.3 77.7,90.9 77.8,91.6 77.9,92.3 78.0,93.0 78.1,93.6 78.2,94.3 78.3,95.0 78.4,95.6 78.5,96.3 78.6,97.0 78.7,97.6 78.8,98.3 78.9,98.9 79.0,99.6 79.1,100.2 79.2,100.9 79.3,101.5 79.4,102.1 79.5,102.8 79.6,103.4 79.7,104.1 79.8,104.7 79.9,105.3 80.0,105.9 80.1,106.6 80.2,107.2 80.3,107.9 80.4,108.5 80.5,109.1 80.6,109.8 80.7,110.4 80.8,111.0 80.9,111.6 81.0,112.3 81.1,112.9 81.2,113.5 81.3,114.1 81.4,114.7 81.5,115.4 81.6,116.0 81.7,116.6 81.8,117.2 81.9,117.9 82.0,118.7 82.2,119.5 82.3,120.2 82.4,121.0 82.6,121.7 82.7,122.4 82.8,123.1 83.0,123.8 83.1,124.5 83.2,125.2 83.4,125.9 83.5,126.5 83.6,127.1 83.8,127.7 83.9,128.3 84.0,128.9 84.2,129.6 84.3,130.3 84.5,131.0 84.7,131.7 84.8,132.4 85.0,133.0 85.2,133.7 85.3,134.3 85.5,135.0 85.7,135.6 85.8,136.2 86.0,136.9 86.2,137.5 86.3,138.1 86.5,138.7 86.7,139.3 86.8,139.9 87.0,140.6 87.1,141.2 87.3,141.8 87.5,142.4 87.6,143.0 87.8,143.6 88.0,144.3 88.1,144.9 88.3,145.5 88.5,146.2 88.6,146.8 88.8,147.4 89.0,148.1 89.1,148.7 89.3,149.3 89.4,150.0 89.6,150.6 89.8,151.2 89.9,151.8 90.1,152.5 90.3,153.1 90.4,153.7 90.6,154.3 90.8,154.9 90.9,155.5 91.1,156.0 91.3,156.7 91.5,157.4 91.7,158.1 91.9,158.7 92.1,159.4 92.3,160.0 92.5,160.6 92.7,161.2 92.9,161.8 93.1,162.4 93.3,163.0 93.5,163.6 93.8,164.3 94.0,164.9 94.2,165.4 94.4,166.0 94.7,166.6 95.0,167.2 95.2,167.8 95.5,168.4 95.8,169.0 96.0,169.5 96.3,170.1 96.6,170.7 96.9,171.2 97.2,171.8 97.5,172.3 97.9,172.9 98.2,173.4 98.6,173.9 98.9,174.4 99.2,175.0 99.5,175.5 99.9,176.0 100.2,176.5 100.6,177.0 101.1,177.4 101.6,177.7 102.2,177.9 102.8,177.9 103.4,177.8 104.0,177.5 104.5,177.2 105.0,176.8 105.5,176.4 106.0,176.0 106.5,175.7 107.0,175.4 107.6,175.1 108.2,174.8 108.7,174.5 109.3,174.2 109.8,173.9 110.4,173.6 111.0,173.4 111.5,173.1 112.1,172.9 112.6,172.7 113.2,172.4 113.8,172.2 114.4,172.0 115.0,171.8 115.6,171.6 116.2,171.4 116.8,171.2 117.4,171.0 118.0,170.8 118.6,170.6 119.2,170.5 119.7,170.3 120.3,170.2 120.9,170.0 121.5,169.9 122.1,169.8 122.7,169.7 123.4,169.6 124.0,169.5 124.6,169.5 125.2,169.4 125.9,169.3 126.5,169.2 127.1,169.2 127.7,169.1 128.4,169.1 129.0,169.0 129.6,169.0 130.2,168.9 130.9,168.9 131.5,168.8 132.1,168.8 132.7,168.8 133.4,168.8 134.0,168.8 134.6,168.8 135.2,168.8 135.9,168.8 136.5,168.8 137.1,168.8 137.7,168.9 138.4,168.9 139.0,169.0 139.6,169.0 140.2,169.1 140.9,169.1 141.5,169.2 142.1,169.3 142.7,169.4 143.4,169.4 144.0,169.5 144.6,169.6 145.2,169.7 145.9,169.8 146.5,169.9 147.1,170.0 147.7,170.1 148.4,170.2 149.0,170.3 149.6,170.4 150.2,170.5 150.9,170.5 151.5,170.6 152.1,170.7 152.7,170.8 153.4,170.9 154.0,171.0 154.6,171.1 155.2,171.1 155.9,171.2 156.5,171.3 157.1,171.4 157.7,171.4 158.4,171.5 159.0,171.6 159.6,171.7 160.2,171.7 160.9,171.8 161.5,171.9 162.1,172.0 162.7,172.0 163.4,172.1 164.0,172.2 164.6,172.2 165.2,172.3 165.9,172.4 166.5,172.5 167.1,172.5 167.7,172.6 168.4,172.7 169.0,172.8 169.6,172.8 170.2,172.9 170.9,173.0 171.5,173.0 172.1,173.1 172.7,173.2 173.4,173.3 174.0,173.3 174.6,173.4 175.2,173.5 175.9,173.5 176.5,173.6"/>
<polyline clip-path="url(#ci)" fill="none" stroke="#a2142f" stroke-width="1.45" stroke-dasharray="1.1 0.9" points="76.5,82.5 76.6,83.3 76.7,84.0 76.8,84.7 76.9,85.4 77.0,86.2 77.1,86.9 77.2,87.6 77.3,88.3 77.4,89.0 77.5,89.7 77.6,90.3 77.7,91.0 77.8,91.7 77.9,92.3 78.0,93.0 78.1,93.6 78.2,94.3 78.3,94.9 78.4,95.5 78.5,96.1 78.6,96.7 78.7,97.3 78.8,97.9 78.9,98.5 79.0,99.1 79.1,99.9 79.3,100.7 79.4,101.5 79.5,102.2 79.7,103.0 79.8,103.7 79.9,104.5 80.1,105.2 80.2,105.9 80.3,106.7 80.5,107.4 80.6,108.1 80.7,108.8 80.9,109.5 81.0,110.2 81.1,110.8 81.3,111.5 81.4,112.2 81.5,112.8 81.6,113.5 81.8,114.1 81.9,114.8 82.0,115.4 82.2,116.0 82.3,116.7 82.4,117.3 82.6,117.9 82.7,118.5 82.8,119.1 83.0,119.7 83.1,120.3 83.3,121.0 83.4,121.7 83.6,122.4 83.8,123.1 83.9,123.8 84.1,124.5 84.2,125.2 84.4,125.8 84.6,126.5 84.7,127.1 84.9,127.8 85.1,128.4 85.2,129.0 85.4,129.7 85.6,130.3 85.7,130.9 85.9,131.5 86.1,132.1 86.2,132.6 86.4,133.3 86.6,134.0 86.8,134.7 87.0,135.3 87.2,136.0 87.4,136.6 87.6,137.3 87.8,137.9 88.0,138.5 88.2,139.1 88.4,139.7 88.6,140.3 88.8,140.9 89.0,141.4 89.2,142.1 89.4,142.7 89.7,143.4 89.9,144.0 90.1,144.6 90.4,145.2 90.6,145.8 90.8,146.4 91.1,146.9 91.3,147.5 91.6,148.1 91.8,148.7 92.1,149.3 92.3,149.9 92.6,150.5 92.9,151.1 93.1,151.6 93.4,152.2 93.7,152.8 94.0,153.4 94.3,154.0 94.6,154.5 94.9,155.1 95.2,155.6 95.5,156.2 95.8,156.7 96.1,157.3 96.5,157.8 96.8,158.4 97.1,158.9 97.4,159.4 97.8,160.0 98.2,160.5 98.5,161.0 98.9,161.5 99.3,162.0 99.6,162.5 100.0,163.0 100.4,163.5 100.8,164.0 101.2,164.5 101.7,164.9 102.1,165.4 102.5,165.9 102.9,166.3 103.4,166.7 103.8,167.2 104.3,167.6 104.7,168.0 105.2,168.4 105.7,168.8 106.2,169.2 106.7,169.6 107.1,170.0 107.6,170.3 108.1,170.7 108.7,171.0 109.2,171.4 109.7,171.7 110.2,172.0 110.8,172.3 111.3,172.6 111.9,172.9 112.4,173.2 113.0,173.5 113.5,173.8 114.1,174.0 114.6,174.3 115.2,174.5 115.8,174.7 116.4,174.9 117.0,175.2 117.5,175.4 118.1,175.6 118.7,175.8 119.3,175.9 119.9,176.1 120.5,176.3 121.1,176.4 121.7,176.6 122.3,176.7 122.9,176.9 123.5,177.0 124.1,177.1 124.6,177.3 125.2,177.4 125.8,177.5 126.4,177.6 127.0,177.7 127.6,177.8 128.2,177.9 128.9,178.0 129.5,178.1 130.1,178.2 130.7,178.3 131.4,178.3 132.0,178.4 132.6,178.5 133.2,178.6 133.9,178.6 134.5,178.7 135.1,178.7 135.7,178.8 136.4,178.9 137.0,178.9 137.6,179.0 138.2,179.0 138.9,179.0 139.5,179.1 140.1,179.1 140.7,179.2 141.4,179.2 142.0,179.2 142.6,179.3 143.2,179.3 143.9,179.3 144.5,179.4 145.1,179.4 145.7,179.4 146.4,179.5 147.0,179.5 147.6,179.5 148.2,179.5 148.9,179.5 149.5,179.6 150.1,179.6 150.7,179.6 151.4,179.6 152.0,179.6 152.6,179.7 153.2,179.7 153.9,179.7 154.5,179.7 155.1,179.7 155.7,179.7 156.4,179.7 157.0,179.8 157.6,179.8 158.2,179.8 158.9,179.8 159.5,179.8 160.1,179.8 160.7,179.8 161.4,179.8 162.0,179.8 162.6,179.8 163.2,179.8 163.9,179.9 164.5,179.9 165.1,179.9 165.7,179.9 166.4,179.9 167.0,179.9 167.6,179.9 168.2,179.9 168.9,179.9 169.5,179.9 170.1,179.9 170.7,179.9 171.4,179.9 172.0,179.9 172.6,179.9 173.2,179.9 173.9,179.9 174.5,179.9 175.1,179.9 175.7,179.9 176.4,179.9 176.5,179.9"/>
<polyline clip-path="url(#ci)" fill="none" stroke="#ff0a0a" stroke-width="1.7" stroke-linejoin="round" points="76.5,82.5 76.5,88.9 76.6,94.8 76.6,100.4 76.6,105.4 76.7,109.9 76.7,113.9 76.7,117.4 76.8,120.4 76.8,122.8 76.8,124.8 76.9,126.5 76.9,128.1 76.9,129.6 77.0,131.0 77.0,132.3 77.0,133.6 77.1,134.8 77.1,135.9 77.1,137.0 77.2,137.9 77.2,138.9 77.3,139.8 77.3,140.6 77.3,141.4 77.4,142.1 77.4,142.8 77.4,143.5 77.5,144.1 77.5,145.2 77.6,146.2 77.7,147.1 77.7,147.8 77.8,148.5 77.9,149.4 78.0,150.1 78.1,150.9 78.2,151.5 78.3,152.1 78.4,152.8 78.6,153.5 78.7,154.1 78.9,154.7 79.0,155.3 79.2,156.0 79.4,156.6 79.6,157.2 79.9,157.9 80.1,158.5 80.3,159.1 80.5,159.7 80.7,160.3 80.9,161.0 81.1,161.6 81.3,162.2 81.5,162.7 81.7,163.4 81.9,164.0 82.2,164.6 82.4,165.2 82.6,165.8 82.9,166.4 83.2,167.0 83.4,167.5 83.7,168.1 84.0,168.7 84.3,169.3 84.6,169.8 85.0,170.4 85.3,170.9 85.7,171.4 86.0,171.9 86.4,172.4 86.8,172.8 87.2,173.3 87.7,173.7 88.2,174.1 88.7,174.5 89.2,174.9 89.6,175.2 90.2,175.6 90.7,175.9 91.2,176.2 91.7,176.5 92.3,176.8 92.8,177.1 93.4,177.4 94.0,177.7 94.5,177.9 95.1,178.1 95.7,178.4 96.3,178.6 96.8,178.7 97.4,178.9 98.0,179.1 98.6,179.2 99.2,179.3 99.8,179.5 100.4,179.6 101.0,179.7 101.7,179.7 102.3,179.8 102.9,179.8 103.5,179.7 104.1,179.6 104.7,179.4 105.3,179.2 105.8,178.9 106.4,178.7 107.0,178.5 107.6,178.3 108.2,178.1 108.8,177.9 109.4,177.7 109.9,177.5 110.5,177.4 111.1,177.2 111.7,177.1 112.3,177.0 112.9,176.9 113.5,176.8 114.1,176.7 114.7,176.6 115.4,176.5 116.0,176.4 116.6,176.4 117.2,176.3 117.9,176.3 118.5,176.2 119.1,176.2 119.7,176.1 120.4,176.1 121.0,176.0 121.6,176.0 122.2,175.9 122.9,175.9 123.5,175.9 124.1,175.8 124.7,175.8 125.4,175.8 126.0,175.8 126.6,175.8 127.2,175.8 127.9,175.8 128.5,175.8 129.1,175.8 129.7,175.8 130.4,175.8 131.0,175.8 131.6,175.8 132.2,175.8 132.9,175.8 133.5,175.9 134.1,175.9 134.8,175.9 135.4,175.9 136.0,175.9 136.6,176.0 137.3,176.0 137.9,176.0 138.5,176.0 139.1,176.0 139.8,176.1 140.4,176.1 141.0,176.1 141.6,176.1 142.3,176.2 142.9,176.2 143.5,176.2 144.1,176.3 144.8,176.3 145.4,176.3 146.0,176.4 146.6,176.4 147.3,176.4 147.9,176.5 148.5,176.5 149.1,176.5 149.8,176.6 150.4,176.6 151.0,176.6 151.6,176.7 152.3,176.7 152.9,176.7 153.5,176.8 154.1,176.8 154.8,176.8 155.4,176.9 156.0,176.9 156.6,176.9 157.3,177.0 157.9,177.0 158.5,177.1 159.1,177.1 159.8,177.1 160.4,177.2 161.0,177.2 161.6,177.2 162.3,177.3 162.9,177.3 163.5,177.3 164.1,177.4 164.8,177.4 165.4,177.4 166.0,177.5 166.6,177.5 167.3,177.5 167.9,177.6 168.5,177.6 169.1,177.7 169.8,177.7 170.4,177.7 171.0,177.7 171.6,177.8 172.3,177.8 172.9,177.8 173.5,177.9 174.1,177.9 174.8,177.9 175.4,178.0 176.0,178.0 176.5,178.0"/>
<rect x="76.5" y="77.6" width="100.00" height="102.40" fill="none" stroke="#a3a3a3" stroke-width="0.9"/>
<path d="M76.50 180.00v-1.6M76.50 77.60v1.6M109.83 180.00v-1.6M109.83 77.60v1.6M143.17 180.00v-1.6M143.17 77.60v1.6M176.50 180.00v-1.6M176.50 77.60v1.6M76.50 180.00h1.6M176.50 180.00h-1.6M76.50 159.52h1.6M176.50 159.52h-1.6M76.50 139.04h1.6M176.50 139.04h-1.6M76.50 118.56h1.6M176.50 118.56h-1.6M76.50 98.08h1.6M176.50 98.08h-1.6M76.50 77.60h1.6M176.50 77.60h-1.6" stroke="#a3a3a3" stroke-width="0.9" fill="none"/>
<g font-family="'Liberation Sans', sans-serif" fill="#1e1e1e" stroke="#1e1e1e" stroke-width="0.12"><text transform="translate(73.30,184.40) scale(0.87,1)" text-anchor="end" font-size="10.6" >0</text><text transform="translate(73.30,163.92) scale(0.87,1)" text-anchor="end" font-size="10.6" >1</text><text transform="translate(73.30,143.44) scale(0.87,1)" text-anchor="end" font-size="10.6" >2</text><text transform="translate(73.30,122.96) scale(0.87,1)" text-anchor="end" font-size="10.6" >3</text><text transform="translate(73.30,102.48) scale(0.87,1)" text-anchor="end" font-size="10.6" >4</text><text transform="translate(73.30,82.00) scale(0.87,1)" text-anchor="end" font-size="10.6" >5</text><text transform="translate(76.50,194.00) scale(0.87,1)" text-anchor="middle" font-size="10.6" >0</text><text transform="translate(109.83,194.00) scale(0.87,1)" text-anchor="middle" font-size="10.6" >0.5</text><text transform="translate(143.17,194.00) scale(0.87,1)" text-anchor="middle" font-size="10.6" >1</text><text transform="translate(176.50,194.00) scale(0.87,1)" text-anchor="middle" font-size="10.6" >1.5</text></g>
<line x1="75.6" y1="180.6" x2="57.5" y2="195.6" stroke="#222" stroke-width="0.8"/>
<polygon points="54.8,197.8 57.0,192.6 59.6,195.8" fill="#222"/>
<text y="35.8" font-size="10.5" font-family="'Liberation Sans', sans-serif" fill="#1e1e1e" stroke="#1e1e1e" stroke-width="0.3"><tspan x="46.5" y="34.3" font-size="8.9">|</tspan><tspan x="50.8" y="34.3" font-size="8.9">|</tspan><tspan x="54.5" y="35.8" font-weight="bold" stroke-width="0" letter-spacing="0.9">e(t)</tspan><tspan x="74.75" y="34.3" font-size="8.9">|</tspan><tspan x="79.15" y="34.3" font-size="8.9">|</tspan><tspan x="83.5" y="37.1" font-size="7" font-weight="bold" stroke-width="0">2</tspan></text>
<rect x="197.2" y="17.2" width="55.30" height="47.90" fill="#fff" stroke="#a3a3a3" stroke-width="0.9"/>
<line x1="198.6" y1="23.6" x2="211.4" y2="23.6" fill="none" stroke="#12901a" stroke-width="1.45" stroke-dasharray="3.6 1.3 1.6 1.3"/>
<text x="212.8" y="27.10" font-family="'Liberation Sans', sans-serif" font-size="9.2" fill="#1e1e1e" stroke="#1e1e1e" stroke-width="0.25">GNN</text>
<line x1="198.6" y1="35.3" x2="211.4" y2="35.3" fill="none" stroke="#1f7acb" stroke-width="1.5" stroke-dasharray="4.3 4.2"/>
<text x="212.8" y="38.80" font-family="'Liberation Sans', sans-serif" font-size="9.2" fill="#1e1e1e" stroke="#1e1e1e" stroke-width="0.25">MZNN</text>
<line x1="198.6" y1="47.1" x2="211.4" y2="47.1" fill="none" stroke="#a2142f" stroke-width="1.45" stroke-dasharray="1.1 0.9"/>
<text x="212.8" y="50.60" font-family="'Liberation Sans', sans-serif" font-size="9.2" fill="#1e1e1e" stroke="#1e1e1e" stroke-width="0.25">NCZNN</text>
<line x1="198.6" y1="58.5" x2="211.4" y2="58.5" fill="none" stroke="#ff0a0a" stroke-width="1.7" stroke-linejoin="round"/>
<text x="212.8" y="62.00" font-family="'Liberation Sans', sans-serif" font-size="9.2" fill="#1e1e1e" stroke="#1e1e1e" stroke-width="0.25">ANAZNN</text>
<rect x="306.8" y="9.3" width="235.60" height="213.00" fill="none" stroke="#a3a3a3" stroke-width="0.9"/>
<path d="M306.80 222.30v-2.4M306.80 9.30v2.4M385.33 222.30v-2.4M385.33 9.30v2.4M463.87 222.30v-2.4M463.87 9.30v2.4M542.40 222.30v-2.4M542.40 9.30v2.4M306.80 222.30h2.4M542.40 222.30h-2.4M306.80 179.70h2.4M542.40 179.70h-2.4M306.80 137.10h2.4M542.40 137.10h-2.4M306.80 94.50h2.4M542.40 94.50h-2.4M306.80 51.90h2.4M542.40 51.90h-2.4M306.80 9.30h2.4M542.40 9.30h-2.4" stroke="#a3a3a3" stroke-width="0.9" fill="none"/>
<polyline clip-path="url(#cr)" fill="none" stroke="#12901a" stroke-width="1.45" stroke-dasharray="3.6 1.3 1.6 1.3" points="306.8,38.6 307.0,39.2 307.3,39.9 307.4,40.5 307.6,41.1 307.8,41.8 308.0,42.6 308.2,43.5 308.3,44.1 308.4,44.8 308.5,45.6 308.6,46.4 308.7,47.3 308.9,48.2 309.0,49.2 309.1,50.3 309.2,50.9 309.2,51.6 309.3,52.3 309.3,53.1 309.4,53.9 309.5,54.8 309.5,55.7 309.6,56.6 309.6,57.5 309.7,58.4 309.7,59.3 309.8,60.2 309.9,61.1 309.9,62.1 310.0,63.0 310.0,64.0 310.1,65.0 310.2,66.0 310.2,67.1 310.3,68.1 310.3,69.1 310.4,70.1 310.5,71.1 310.5,72.1 310.6,73.1 310.6,74.0 310.7,74.9 310.7,75.8 310.8,76.6 310.9,77.4 310.9,78.2 311.0,79.0 311.0,79.8 311.1,80.5 311.2,81.2 311.2,81.9 311.3,82.6 311.3,83.3 311.4,83.9 311.5,84.5 311.6,85.7 311.6,86.4 311.7,87.1 311.7,87.7 311.8,88.4 311.9,89.0 312.0,90.1 312.1,90.8 312.5,90.3 312.6,89.6 312.8,88.7 312.9,87.7 313.0,86.6 313.1,85.4 313.2,84.8 313.2,84.1 313.3,83.5 313.3,82.9 313.4,82.2 313.5,81.6 313.5,81.0 313.6,80.4 313.7,79.2 313.8,78.1 313.9,77.2 314.0,76.4 314.2,75.8 314.5,75.3 315.2,75.3 315.8,75.3 316.5,75.3 317.1,75.3 317.8,75.3 318.4,75.3 319.1,75.3 319.6,75.5 320.2,75.8 320.8,76.1 321.3,76.5 321.8,76.9 322.3,77.3 322.8,77.7 323.3,78.1 323.8,78.4 324.4,78.7 324.9,79.0 325.4,79.4 325.9,79.7 326.5,80.1 327.0,80.4 327.5,80.7 328.1,81.0 328.7,81.3 329.2,81.5 329.9,81.6 330.5,81.6 331.2,81.5 331.8,81.4 332.4,81.3 333.0,81.1 333.6,80.9 334.2,80.7 334.8,80.5 335.4,80.2 336.0,80.0 336.6,79.7 337.1,79.4 337.7,79.1 338.3,78.8 338.8,78.5 339.3,78.1 339.9,77.7 340.4,77.3 340.9,77.0 341.3,76.6 341.8,76.2 342.3,75.8 342.7,75.4 343.2,75.0 343.7,74.6 344.3,74.2 344.8,73.8 345.3,73.5 345.9,73.1 346.4,72.7 346.9,72.4 347.5,72.0 348.0,71.7 348.5,71.3 349.0,71.0 349.6,70.8 350.2,70.5 350.8,70.3 351.4,70.1 352.0,69.9 352.6,69.7 353.2,69.5 353.8,69.4 354.5,69.4 355.1,69.5 355.7,69.7 356.2,70.0 356.8,70.4 357.3,70.8 357.8,71.2 358.2,71.6 358.7,72.0 359.2,72.5 359.6,73.0 360.0,73.5 360.4,74.0 360.7,74.5 361.1,75.0 361.4,75.5 361.8,76.1 362.1,76.7 362.4,77.3 362.7,77.8 363.4,77.7 363.7,77.1 364.0,76.4 364.3,75.8 364.7,75.3 365.0,74.8 365.4,74.3 365.7,73.8 366.1,73.2 366.5,72.7 367.0,72.3 367.5,72.0 368.1,71.7 368.7,71.5 369.3,71.3 369.9,71.2 370.5,71.0 371.1,70.9 371.8,70.8 372.4,70.8 373.1,70.8 373.7,70.9 374.4,71.0 375.0,71.1 375.6,71.3 376.1,71.4 376.7,71.6 377.3,71.8 377.9,72.1 378.5,72.3 379.1,72.5 379.7,72.7 380.3,73.0 380.9,73.2 381.4,73.4 382.0,73.6 382.6,73.8 383.2,74.1 383.8,74.3 384.4,74.5 385.0,74.7 385.6,75.0 386.2,75.2 386.7,75.5 387.3,75.7 387.9,76.0 388.5,76.2 389.1,76.5 389.7,76.7 390.3,77.0 390.8,77.4 391.3,77.7 391.9,78.0 392.4,78.4 392.9,78.7 393.5,79.0 394.1,79.3 394.6,79.5 395.2,79.6 395.9,79.7 396.5,79.6 397.1,79.3 397.6,78.9 398.2,78.5 398.6,78.1 399.2,77.7 399.7,77.4 400.2,77.0 400.7,76.6 401.2,76.2 401.7,75.8 402.1,75.4 402.7,75.0 403.2,74.7 403.8,74.4 404.4,74.2 405.0,74.0 405.5,73.8 406.1,73.7 406.7,73.5 407.4,73.4 408.0,73.3 408.7,73.3 409.3,73.3 410.0,73.4 410.6,73.4 411.3,73.5 411.9,73.6 412.5,73.8 413.1,73.9 413.7,74.0 414.3,74.2 414.8,74.4 415.4,74.5 416.0,74.8 416.6,75.1 417.1,75.4 417.7,75.7 418.2,76.0 418.7,76.3 419.3,76.6 419.8,77.0 420.3,77.4 420.9,77.7 421.4,78.2 421.9,78.6 422.4,79.0 423.0,79.4 423.5,79.8 424.0,80.1 424.6,80.4 425.2,80.7 425.7,80.9 426.3,81.2 426.9,81.4 427.5,81.7 428.1,81.8 428.7,82.0 429.3,82.0 430.0,81.9 430.6,81.8 431.2,81.6 431.8,81.3 432.3,81.0 432.9,80.8 433.4,80.4 433.9,80.1 434.5,79.8 435.0,79.5 435.5,79.2 436.1,78.8 436.6,78.4 437.1,78.1 437.5,77.7 438.0,77.3 438.5,76.8 438.9,76.4 439.4,76.0 439.9,75.6 440.4,75.2 440.8,74.8 441.3,74.4 441.8,74.0 442.4,73.6 442.9,73.2 443.4,72.8 444.0,72.4 444.5,72.0 445.0,71.6 445.5,71.3 446.1,71.0 446.7,70.7 447.3,70.5 447.8,70.3 448.4,70.1 449.0,69.9 449.6,69.8 450.2,69.6 450.8,69.5 451.5,69.4 452.1,69.4 452.8,69.4 453.4,69.6 454.0,69.8 454.6,70.1 455.1,70.4 455.6,70.8 456.1,71.1 456.6,71.5 457.1,72.0 457.5,72.5 457.9,73.0 458.3,73.5 458.7,73.9 459.2,74.4 459.5,74.9 459.9,75.5 460.2,76.0 460.6,76.6 461.0,77.0 461.6,77.3 462.2,77.0 462.5,76.5 462.9,75.9 463.2,75.4 463.6,74.9 464.1,74.4 464.6,73.9 465.0,73.5 465.5,73.1 466.0,72.7 466.6,72.4 467.2,72.1 467.8,71.8 468.3,71.5 468.9,71.2 469.5,70.9 470.1,70.8 470.7,70.6 471.3,70.5 472.0,70.5 472.6,70.6 473.3,70.7 473.9,70.8 474.5,71.0 475.1,71.2 475.6,71.4 476.2,71.6 476.8,71.9 477.4,72.1 478.0,72.4 478.6,72.6 479.2,72.8 479.8,73.0 480.4,73.2 481.0,73.4 481.5,73.6 482.1,73.8 482.7,73.9 483.3,74.1 483.9,74.3 484.5,74.5 485.1,74.7 485.7,74.9 486.3,75.1 486.8,75.4 487.4,75.6 488.0,75.9 488.6,76.2 489.1,76.6 489.6,77.0 490.0,77.5 490.5,77.9 491.0,78.4 491.4,78.9 491.9,79.3 492.4,79.7 492.9,80.1 493.4,80.4 494.0,80.6 494.7,80.6 495.3,80.5 495.9,80.2 496.4,79.9 497.0,79.6 497.5,79.2 498.0,78.8 498.6,78.4 499.1,78.1 499.6,77.7 500.2,77.4 500.7,77.1 501.2,76.8 501.7,76.4 502.3,76.1 502.8,75.7 503.3,75.3 503.9,75.0 504.4,74.7 504.9,74.4 505.5,74.1 506.1,73.8 506.7,73.6 507.3,73.5 507.9,73.4 508.6,73.4 509.2,73.5 509.8,73.7 510.4,73.8 511.0,74.1 511.6,74.3 512.2,74.5 512.8,74.7 513.4,74.9 513.9,75.2 514.5,75.4 515.1,75.7 515.7,76.0 516.3,76.3 516.8,76.6 517.4,76.9 517.9,77.2 518.4,77.5 519.0,77.8 519.5,78.2 520.0,78.6 520.5,79.0 521.1,79.4 521.6,79.8 522.1,80.1 522.7,80.4 523.3,80.7 523.8,81.0 524.4,81.2 525.0,81.5 525.6,81.7 526.2,81.9 526.8,82.0 527.5,82.0 528.1,81.9 528.7,81.7 529.3,81.5 529.9,81.3 530.5,81.0 531.1,80.8 531.7,80.5 532.2,80.2 532.7,79.9 533.3,79.5 533.8,79.2 534.3,78.8 534.9,78.5 535.4,78.1 535.9,77.7 536.4,77.3 536.9,76.9 537.3,76.5 537.8,76.2 538.3,75.7 538.9,75.3 539.4,74.9 539.9,74.5 540.5,74.1 541.0,73.7 541.5,73.3 542.0,72.9 542.4,72.6"/>
<polyline clip-path="url(#cr)" fill="none" stroke="#a2142f" stroke-width="1.45" stroke-dasharray="1.2 0.75" points="306.8,38.6 307.4,40.1 307.9,41.6 308.5,43.1 309.0,44.6 309.6,46.1 310.2,47.6 310.7,49.2 311.3,50.7 311.8,52.2 312.4,53.7 313.0,55.2 313.5,56.7 314.1,58.2 314.7,59.7 315.2,61.2 315.8,62.7 316.3,64.2 316.9,65.7 317.5,67.2 318.0,68.7 318.6,70.2 319.1,71.7 319.7,73.3 320.3,74.8 320.8,76.3 321.4,77.8 321.9,79.3 322.5,80.8 323.1,82.3 323.6,83.8 324.2,85.3 324.8,86.8 325.3,88.3 325.9,89.8 326.4,91.3 327.0,92.8 327.6,94.3 328.1,95.8 328.7,97.4 329.2,98.9 329.8,100.4 330.4,101.9 330.9,103.4 331.5,104.9 332.0,106.4 332.6,107.9 333.2,109.4 333.7,110.9 334.3,112.4 334.9,113.9 335.4,115.4 336.0,116.9 336.5,118.4 337.1,120.0 337.7,121.5 338.2,123.0 338.8,124.5 339.3,126.0 339.9,127.5 340.8,127.0 342.8,125.6 344.8,137.4 346.8,126.5 348.8,143.1 350.8,132.7 352.8,139.2 354.8,115.0 356.8,134.4 358.8,114.9 360.8,133.8 362.8,117.9 364.8,132.4 366.8,117.7 368.8,137.4 370.8,122.8 372.8,136.9 374.8,122.7 376.8,142.0 378.8,129.4 380.8,145.5 382.8,130.9 384.8,142.7 386.8,129.6 388.8,140.5 390.8,125.4 392.8,137.1 394.8,124.2 396.8,137.7 398.8,120.2 400.8,140.6 402.8,121.5 404.8,136.8 406.8,126.5 408.8,133.8 410.8,125.5 412.8,139.5 414.8,128.8 416.8,145.6 418.8,126.2 420.8,147.8 422.8,125.4 424.8,143.5 426.8,126.3 428.8,146.7 430.8,126.8 432.8,143.1 434.8,121.8 436.8,141.7 438.8,128.5 440.8,142.2 442.8,127.4 444.8,143.4 446.8,127.9 448.8,142.4 450.8,131.7 452.8,143.4 454.8,114.2 456.8,128.8 458.8,113.1 460.8,127.1 462.8,120.3 464.8,134.8 466.8,119.8 468.8,137.2 470.8,122.6 472.8,133.7 474.8,126.7 476.8,141.8 478.8,126.5 480.8,145.4 482.8,126.3 484.8,139.3 486.8,124.5 488.8,139.0 490.8,125.7 492.8,137.2 494.8,125.4 496.8,138.8 498.8,121.6 500.8,138.3 502.8,127.4 504.8,139.1 506.8,124.9 508.8,135.6 510.8,125.9 512.8,143.0 514.8,125.6 516.8,146.1 518.8,126.8 520.8,147.5 522.8,129.3 524.8,141.7 526.8,127.2 528.8,140.8 530.8,129.0 532.8,139.4 534.8,129.1 536.8,143.9 538.8,124.8 540.8,142.3"/>
<line x1="421.5" y1="142.8" x2="421.5" y2="152.8" fill="none" stroke="#a2142f" stroke-width="1.45" stroke-dasharray="1.1 0.9"/>
<line x1="424.3" y1="141.0" x2="424.3" y2="151" fill="none" stroke="#a2142f" stroke-width="1.45" stroke-dasharray="1.1 0.9"/>
<line x1="481.8" y1="137.8" x2="481.8" y2="147.8" fill="none" stroke="#a2142f" stroke-width="1.45" stroke-dasharray="1.1 0.9"/>
<line x1="523.6" y1="146.0" x2="523.6" y2="156" fill="none" stroke="#a2142f" stroke-width="1.45" stroke-dasharray="1.1 0.9"/>
<line x1="452.2" y1="135.5" x2="452.2" y2="145.5" fill="none" stroke="#a2142f" stroke-width="1.45" stroke-dasharray="1.1 0.9"/>
<line x1="517.5" y1="139.6" x2="517.5" y2="149.6" fill="none" stroke="#a2142f" stroke-width="1.45" stroke-dasharray="1.1 0.9"/>
<polyline clip-path="url(#cr)" fill="none" stroke="#1f7acb" stroke-width="1.5" stroke-dasharray="4.3 4.2" points="306.8,38.6 307.0,39.2 307.3,39.9 307.5,40.6 307.7,41.3 307.9,41.9 308.1,42.5 308.3,43.1 308.4,43.7 308.7,44.5 308.9,45.2 309.2,45.9 309.3,46.5 309.5,47.2 309.7,47.9 309.9,48.7 310.0,49.5 310.2,50.1 310.3,50.8 310.4,51.4 310.5,52.1 310.6,52.7 310.7,53.4 310.9,54.1 311.0,54.9 311.1,55.6 311.2,56.4 311.3,57.2 311.5,58.0 311.6,58.9 311.7,59.8 311.8,60.7 311.9,61.6 312.0,62.7 312.1,63.3 312.2,64.0 312.2,64.7 312.3,65.5 312.3,66.3 312.4,67.1 312.5,67.8 312.5,68.6 312.6,69.2 312.6,69.9 312.8,70.9 312.9,71.5 313.2,70.7 313.3,69.8 313.4,68.8 313.5,67.7 313.6,66.7 313.8,65.8 313.9,65.1 314.0,64.4 314.2,63.7 314.4,63.1 314.6,62.5 314.8,61.8 315.0,61.2 315.3,60.6 315.7,60.0 316.0,59.4 316.4,58.9 316.8,58.4 317.3,58.0 317.8,57.7 318.4,57.4 319.0,57.2 319.6,57.1 320.2,57.0 320.9,57.0 321.5,57.2 322.1,57.4 322.7,57.6 323.3,57.9 323.8,58.2 324.4,58.5 324.9,58.8 325.5,59.1 326.1,59.4 326.7,59.7 327.2,60.0 327.8,60.3 328.3,60.6 328.8,60.9 329.4,61.2 329.9,61.5 330.4,61.8 331.0,62.1 331.5,62.5 332.0,62.8 332.5,63.1 333.1,63.4 333.6,63.7 334.1,64.1 334.7,64.4 335.2,64.7 335.7,65.1 336.3,65.4 336.8,65.8 337.3,66.1 337.8,66.4 338.4,66.8 338.9,67.1 339.4,67.5 340.0,67.8 340.5,68.2 341.0,68.6 341.6,68.9 342.1,69.3 342.6,69.7 343.2,70.0 343.7,70.4 344.2,70.8 344.7,71.1 345.3,71.5 345.8,71.9 346.3,72.3 346.9,72.6 347.4,73.0 347.9,73.4 348.5,73.8 349.0,74.2 349.5,74.5 350.0,74.9 350.6,75.3 351.1,75.7 351.6,76.1 352.2,76.5 352.7,76.9 353.2,77.3 353.8,77.7 354.3,78.1 354.8,78.5 355.3,78.9 355.9,79.3 356.4,79.7 356.9,80.1 357.5,80.5 358.0,80.9 358.5,81.3 359.1,81.7 359.6,82.1 360.1,82.5 360.6,82.9 361.2,83.3 361.7,83.7 362.2,84.1 362.8,84.5 363.3,84.9 363.8,85.3 364.4,85.7 364.9,86.1 365.4,86.5 366.0,87.0 366.5,87.4 367.0,87.8 367.5,88.2 368.1,88.6 368.6,89.0 369.1,89.4 369.7,89.8 370.2,90.2 370.7,90.6 371.3,91.1 371.8,91.5 372.3,91.9 372.8,92.3 373.4,92.7 373.9,93.1 374.4,93.5 375.0,93.9 375.5,94.3 376.0,94.7 376.6,95.2 377.1,95.6 377.6,96.0 378.1,96.4 378.7,96.8 379.2,97.2 379.7,97.6 380.3,98.0 380.8,98.4 381.3,98.8 381.9,99.2 382.4,99.6 382.9,100.1 383.4,100.5 384.0,100.9 384.5,101.3 385.0,101.7 385.6,102.1 386.1,102.5 386.6,102.9 387.2,103.3 387.7,103.7 388.2,104.1 388.8,104.5 389.3,104.9 389.8,105.3 390.3,105.7 390.9,106.1 391.4,106.5 391.9,106.9 392.5,107.3 393.0,107.7 393.5,108.1 394.1,108.5 394.6,108.9 395.1,109.3 395.6,109.7 396.2,110.1 396.7,110.5 397.2,110.9 397.8,111.3 398.3,111.7 398.8,112.1 399.4,112.5 399.9,112.8 400.4,113.2 400.9,113.6 401.5,114.0 402.0,114.4 402.5,114.8 403.1,115.2 403.6,115.6 404.1,116.0 404.7,116.4 405.2,116.8 405.7,117.1 406.2,117.5 406.8,117.9 407.3,118.3 407.8,118.7 408.4,119.1 408.9,119.5 409.4,119.8 410.0,120.2 410.5,120.6 411.0,121.0 411.6,121.4 412.1,121.8 412.6,122.1 413.1,122.5 413.7,122.9 414.2,123.3 414.7,123.7 415.3,124.1 415.8,124.4 416.3,124.8 416.9,125.2 417.4,125.6 417.9,126.0 418.4,126.4 419.0,126.7 419.5,127.1 420.0,127.5 420.6,127.9 421.1,128.3 421.6,128.6 422.2,129.0 422.7,129.4 423.2,129.8 423.7,130.2 424.3,130.6 424.8,130.9 425.3,131.3 425.9,131.7 426.4,132.1 426.9,132.5 427.5,132.9 428.0,133.2 428.5,133.6 429.0,134.0 429.6,134.4 430.1,134.8 430.6,135.2 431.2,135.6 431.7,135.9 432.2,136.3 432.8,136.7 433.3,137.1 433.8,137.5 434.4,137.9 434.9,138.3 435.4,138.7 435.9,139.1 436.5,139.5 437.0,139.9 437.5,140.3 438.1,140.6 438.6,141.0 439.1,141.4 439.7,141.8 440.2,142.3 440.7,142.7 441.2,143.1 441.8,143.5 442.3,143.9 442.8,144.3 443.4,144.7 443.9,145.1 444.4,145.5 445.0,145.9 445.5,146.3 446.0,146.8 446.5,147.1 447.0,147.5 447.4,147.9 447.9,148.2 448.4,148.6 448.8,149.0 449.3,149.4 449.8,149.8 450.3,150.1 450.7,150.5 451.2,150.9 451.7,151.3 452.1,151.7 452.6,152.1 453.1,152.5 453.6,152.8 454.0,153.2 454.5,153.6 455.0,154.0 455.4,154.4 455.9,154.8 456.4,155.2 456.9,155.7 457.3,156.1 457.8,156.5 458.3,157.0 458.7,157.4 459.2,157.9 459.7,158.4 460.1,158.8 460.5,159.3 460.9,159.7 461.3,160.2 461.7,160.6 462.2,161.1 462.6,161.5 463.0,161.9 463.5,162.4 463.9,162.9 464.4,163.4 464.9,163.8 465.3,164.3 465.8,164.7 466.3,165.1 466.8,165.6 467.2,166.1 467.7,166.5 468.2,167.0 468.7,167.4 469.2,167.6 469.8,167.8 470.4,167.6 470.9,167.2 471.3,166.7 471.5,165.9 471.6,165.2 471.8,164.3 471.9,163.4 472.0,162.4 472.1,161.4 472.2,160.6 472.4,159.9 472.5,159.1 473.2,159.1 473.7,159.5 474.1,159.9 474.5,160.4 474.9,161.0 475.4,161.5 475.8,161.9 476.3,162.3 476.8,162.7 477.3,163.1 477.8,163.5 478.4,163.9 478.9,164.3 479.4,164.6 480.0,165.0 480.5,165.4 481.0,165.7 481.5,166.1 482.1,166.5 482.6,166.8 483.1,167.2 483.7,167.6 484.1,168.0 484.6,168.4 485.1,168.8 485.5,169.2 486.0,169.6 486.5,170.0 487.1,170.4 487.6,170.7 488.1,171.1 488.7,171.4 489.3,171.6 489.9,171.8 490.5,171.9 491.1,172.1 491.7,172.2 492.3,172.3 492.9,172.4 493.5,172.6 494.1,172.7 494.8,172.8 495.4,172.9 496.1,173.0 496.7,173.1 497.4,173.2 498.0,173.2 498.7,173.3 499.3,173.4 500.0,173.5 500.6,173.5 501.3,173.6 501.9,173.6 502.6,173.7 503.2,173.7 503.9,173.8 504.5,173.8 505.2,173.9 505.8,173.9 506.5,174.0 507.1,174.0 507.8,174.0 508.4,174.1 509.1,174.1 509.7,174.1 510.4,174.2 511.0,174.2 511.6,174.2 512.3,174.3 512.9,174.3 513.6,174.3 514.2,174.3 514.9,174.4 515.5,174.4 516.2,174.4 516.8,174.5 517.5,174.5 518.1,174.5 518.8,174.6 519.4,174.6 520.1,174.7 520.7,174.7 521.4,174.7 522.0,174.8 522.7,174.8 523.3,174.9 524.0,174.9 524.6,175.0 525.3,175.0 525.9,175.0 526.6,175.1 527.2,175.1 527.8,175.2 528.5,175.2 529.1,175.3 529.8,175.3 530.4,175.4 531.1,175.4 531.7,175.5 532.4,175.5 533.0,175.6 533.7,175.6 534.3,175.7 535.0,175.7 535.6,175.7 536.3,175.8 536.9,175.9 537.6,175.9 538.2,176.0 538.9,176.0 539.5,176.1 540.2,176.1 540.8,176.2 541.5,176.2 542.1,176.3 542.4,176.3"/>
<polyline clip-path="url(#cr)" fill="none" stroke="#ff0a0a" stroke-width="1.4" stroke-linejoin="round" points="306.8,38.6 306.8,39.4 306.8,40.2 306.8,40.9 306.8,41.6 306.9,42.3 306.9,43.3 306.9,44.0 306.9,44.7 306.9,45.3 307.0,46.1 307.0,46.7 307.0,47.5 307.1,48.2 307.2,49.2 307.3,49.9 307.5,50.6 307.6,51.3 307.8,52.0 307.9,52.9 308.0,53.8 308.2,54.7 308.3,55.3 308.4,55.9 308.5,56.5 308.6,57.0 308.7,57.9 308.9,58.8 309.0,59.7 309.2,60.5 309.3,61.3 309.5,62.1 309.6,62.8 309.8,63.6 309.9,64.3 310.1,65.1 310.2,65.9 310.3,66.7 310.5,67.6 310.6,68.2 310.7,68.9 310.8,69.5 310.9,70.2 311.0,70.9 311.1,71.6 311.2,72.3 311.3,73.1 311.4,73.8 311.5,74.6 311.6,75.5 311.7,76.3 311.8,77.2 311.9,78.0 312.0,79.0 312.1,80.0 312.1,80.6 312.2,81.3 312.2,82.0 312.3,82.7 312.3,83.5 312.4,84.3 312.4,85.0 312.5,85.8 312.5,86.5 312.5,87.2 312.6,87.9 312.7,89.0 312.8,89.8 313.1,89.2 313.1,88.6 313.2,87.8 313.2,86.9 313.3,86.0 313.3,84.9 313.4,83.9 313.4,82.8 313.5,81.7 313.5,80.6 313.6,79.5 313.6,78.5 313.7,77.6 313.7,76.7 313.8,76.0 313.8,75.3 313.9,74.5 314.0,73.7 314.1,73.0 314.2,72.4 314.3,71.7 314.5,70.9 314.6,70.2 314.8,69.6 314.9,69.0 315.2,68.4 315.5,67.8 315.8,67.2 316.2,66.7 316.7,66.3 317.3,65.9 317.8,65.6 318.4,65.4 319.0,65.4 319.6,65.4 320.3,65.5 320.9,65.7 321.5,65.9 322.0,66.1 322.6,66.3 323.2,66.6 323.8,66.9 324.3,67.2 324.8,67.6 325.4,67.9 325.9,68.3 326.4,68.6 326.9,69.0 327.4,69.4 327.9,69.7 328.4,70.1 328.9,70.5 329.3,70.9 329.8,71.4 330.3,71.8 330.8,72.2 331.3,72.7 331.8,73.1 332.3,73.6 332.7,74.0 333.2,74.4 333.6,74.8 334.0,75.2 334.5,75.7 334.9,76.1 335.4,76.5 335.8,77.0 336.2,77.4 336.7,77.8 337.1,78.3 337.6,78.7 338.0,79.2 338.5,79.6 338.9,80.1 339.3,80.5 339.8,81.0 340.2,81.4 340.7,81.9 341.1,82.3 341.5,82.8 342.0,83.3 342.4,83.7 342.9,84.2 343.3,84.7 343.7,85.1 344.2,85.6 344.6,86.0 345.1,86.5 345.5,87.0 345.9,87.5 346.4,87.9 346.8,88.4 347.3,88.9 347.7,89.3 348.1,89.8 348.6,90.3 349.0,90.7 349.5,91.2 349.9,91.7 350.4,92.2 350.8,92.6 351.2,93.1 351.7,93.6 352.1,94.1 352.6,94.5 353.0,95.0 353.4,95.5 353.9,96.0 354.3,96.4 354.8,96.9 355.2,97.4 355.6,97.9 356.1,98.3 356.5,98.8 357.0,99.3 357.4,99.8 357.8,100.2 358.3,100.7 358.7,101.2 359.2,101.7 359.6,102.1 360.0,102.6 360.5,103.1 360.9,103.6 361.4,104.0 361.8,104.5 362.3,105.0 362.7,105.5 363.1,106.0 363.6,106.4 364.0,106.9 364.5,107.4 364.9,107.9 365.3,108.3 365.8,108.8 366.2,109.3 366.7,109.8 367.1,110.3 367.5,110.7 368.0,111.2 368.4,111.7 368.9,112.2 369.3,112.6 369.7,113.1 370.2,113.6 370.6,114.1 371.1,114.6 371.5,115.0 371.9,115.5 372.4,116.0 372.8,116.5 373.3,116.9 373.7,117.4 374.2,117.9 374.6,118.4 375.0,118.9 375.5,119.3 375.9,119.8 376.4,120.3 376.8,120.8 377.2,121.2 377.7,121.7 378.1,122.2 378.6,122.7 379.0,123.2 379.4,123.6 379.9,124.1 380.3,124.6 380.8,125.1 381.2,125.5 381.6,126.0 382.1,126.5 382.5,127.0 383.0,127.5 383.4,127.9 383.8,128.4 384.3,128.9 384.7,129.4 385.2,129.8 385.6,130.3 386.0,130.8 386.5,131.3 386.9,131.8 387.4,132.2 387.8,132.7 388.3,133.2 388.7,133.7 389.1,134.2 389.6,134.6 390.0,135.1 390.5,135.6 390.9,136.1 391.3,136.5 391.8,137.0 392.2,137.5 392.7,138.0 393.1,138.5 393.5,138.9 394.0,139.4 394.4,139.9 394.9,140.4 395.3,140.8 395.7,141.3 396.2,141.8 396.6,142.3 397.1,142.8 397.5,143.2 397.9,143.7 398.4,144.2 398.8,144.7 399.3,145.1 399.7,145.6 400.2,146.1 400.6,146.6 401.0,147.1 401.5,147.5 401.9,148.0 402.4,148.5 402.8,149.0 403.2,149.5 403.7,149.9 404.1,150.4 404.6,150.9 405.0,151.4 405.0,151.4 405.5,152.3 406.0,152.3 406.5,153.5 407.0,153.2 407.5,154.4 408.0,154.1 408.5,155.7 409.0,155.1 409.5,156.8 410.0,155.9 410.5,158.1 411.0,157.0 411.5,159.6 412.0,157.7 412.5,160.2 413.0,158.6 413.5,161.0 414.0,159.4 414.5,162.3 415.0,160.2 415.5,162.9 416.0,161.1 416.5,164.5 417.0,161.9 417.5,165.9 418.0,162.6 418.5,166.5 419.0,163.4 419.5,166.9 420.0,164.5 420.5,168.6 421.0,164.9 421.5,169.6 422.0,165.5 422.5,169.6 423.0,166.4 423.5,170.6 424.0,166.9 424.5,172.4 425.0,168.0 425.5,173.0 426.0,168.6 426.5,173.2 427.0,169.0 427.5,174.1 428.0,169.9 428.5,176.5 429.0,170.9 429.5,176.9 430.0,171.2 430.5,179.0 431.0,171.9 431.5,177.9 432.0,172.5 432.5,178.9 433.0,172.9 433.5,180.1 434.0,173.1 434.5,181.8 435.0,174.3 435.5,184.9 436.0,174.3 436.5,185.8 437.0,174.6 437.5,187.4 438.0,176.1 438.5,188.1 439.0,176.8 439.5,189.8 440.0,176.8 440.5,193.2 441.0,176.9 441.5,191.1 442.0,177.0 442.5,193.6 443.0,176.8 443.5,193.2 444.0,177.6 444.5,190.7 445.0,176.2 445.5,192.8 446.0,175.1 446.5,192.2 447.0,175.7 447.5,187.5 448.0,174.4 448.5,189.7 449.0,172.1 449.5,188.7 450.0,172.0 450.5,186.2 451.0,171.6 451.5,187.0 452.0,170.2 452.5,190.0 453.0,169.0 453.5,186.2 454.0,169.5 454.5,189.1 455.0,169.3 455.5,187.8 456.0,170.7 456.5,185.2 457.0,171.3 457.5,186.7 458.0,171.5 458.5,182.8 459.0,170.7 459.5,184.7 460.0,171.2 460.5,185.1 461.0,171.2 461.5,185.1 462.0,171.5 462.5,182.8 463.0,171.3 463.5,183.0 464.0,171.5 464.5,182.1 465.0,172.1 465.5,181.7 466.0,171.5 466.5,182.7 467.0,171.9 467.5,180.8 468.0,171.5 468.5,179.3 469.0,170.8 469.5,178.5 470.0,170.4 470.5,178.2 471.0,167.2 471.5,174.2 472.0,160.2 472.5,175.5 473.0,160.8 473.5,175.5 474.0,160.1 474.5,176.1 475.0,166.0 475.5,177.1 476.0,169.4 476.5,179.6 477.0,169.6 477.5,181.0 478.0,170.2 478.5,181.2 479.0,170.0 479.5,182.1 480.0,170.1 480.5,179.7 481.0,169.6 481.5,180.5 482.0,169.7 482.5,180.5 483.0,170.1 483.5,180.5 484.0,170.8 484.5,182.6 485.0,171.3 485.5,183.6 486.0,170.8 486.5,185.8 487.0,170.9 487.5,185.0 488.0,170.5 488.5,184.3 489.0,171.2 489.5,184.9 490.0,171.1 490.5,186.9 491.0,171.2 491.5,186.0 492.0,171.8 492.5,184.7 493.0,171.8 493.5,185.4 494.0,172.8 494.5,189.4 495.0,172.9 495.5,192.1 496.0,172.6 496.5,192.7 497.0,173.4 497.5,190.8 498.0,172.9 498.5,193.4 499.0,173.9 499.5,191.9 500.0,174.3 500.5,189.6 501.0,173.5 501.5,190.4 502.0,173.1 502.5,186.6 503.0,173.1 503.5,182.0 504.0,173.2 504.5,179.9 505.0,173.0 505.5,177.4 506.0,172.7 506.5,175.6 507.0,172.7 507.5,173.4 508.0,169.9 508.5,174.6 509.0,169.3 509.5,177.0 510.0,170.8 510.5,178.9 511.0,172.0 511.5,181.3 512.0,173.0 512.5,183.1 513.0,172.9 513.5,183.7 514.0,173.3 514.5,185.4 515.0,173.2 515.5,188.0 516.0,174.0 516.5,185.2 517.0,174.5 517.5,191.0 518.0,173.8 518.5,188.6 519.0,174.5 519.5,190.1 520.0,174.9 520.5,191.0 521.0,174.5 521.5,190.5 522.0,174.7 522.5,191.4 523.0,176.2 523.5,192.5 524.0,175.3 524.5,192.0 525.0,177.4 525.5,197.5 526.0,176.7 526.5,196.7 527.0,176.6 527.5,196.8 528.0,175.5 528.5,191.9 529.0,175.2 529.5,197.1 530.0,176.9 530.5,195.3 531.0,176.4 531.5,196.6 532.0,177.3 532.5,191.1 533.0,175.9 533.5,192.7 534.0,177.0 534.5,193.4 535.0,176.4 535.5,190.4 536.0,176.9 536.5,194.1 537.0,175.9 537.5,196.3 538.0,176.6 538.5,196.2 539.0,176.4 539.5,194.9 540.0,176.4 540.5,190.9 541.0,177.9 541.5,195.1 542.0,176.6"/>
<polyline clip-path="url(#cr)" fill="none" stroke="#ff0a0a" stroke-width="1.7" stroke-linejoin="round" points="306.8,38.6 306.8,39.4 306.8,40.2 306.8,40.9 306.8,41.6 306.9,42.3 306.9,43.3 306.9,44.0 306.9,44.7 306.9,45.3 307.0,46.1 307.0,46.7 307.0,47.5 307.1,48.2 307.2,49.2 307.3,49.9 307.5,50.6 307.6,51.3 307.8,52.0 307.9,52.9 308.0,53.8 308.2,54.7 308.3,55.3 308.4,55.9 308.5,56.5 308.6,57.0 308.7,57.9 308.9,58.8 309.0,59.7 309.2,60.5 309.3,61.3 309.5,62.1 309.6,62.8 309.8,63.6 309.9,64.3 310.1,65.1 310.2,65.9 310.3,66.7 310.5,67.6 310.6,68.2 310.7,68.9 310.8,69.5 310.9,70.2 311.0,70.9 311.1,71.6 311.2,72.3 311.3,73.1 311.4,73.8 311.5,74.6 311.6,75.5 311.7,76.3 311.8,77.2 311.9,78.0 312.0,79.0 312.1,80.0 312.1,80.6 312.2,81.3 312.2,82.0 312.3,82.7 312.3,83.5 312.4,84.3 312.4,85.0 312.5,85.8 312.5,86.5 312.5,87.2 312.6,87.9 312.7,89.0 312.8,89.8 313.1,89.2 313.1,88.6 313.2,87.8 313.2,86.9 313.3,86.0 313.3,84.9 313.4,83.9 313.4,82.8 313.5,81.7 313.5,80.6 313.6,79.5 313.6,78.5 313.7,77.6 313.7,76.7 313.8,76.0 313.8,75.3 313.9,74.5 314.0,73.7 314.1,73.0 314.2,72.4 314.3,71.7 314.5,70.9 314.6,70.2 314.8,69.6 314.9,69.0 315.2,68.4 315.5,67.8 315.8,67.2 316.2,66.7 316.7,66.3 317.3,65.9 317.8,65.6 318.4,65.4 319.0,65.4 319.6,65.4 320.3,65.5 320.9,65.7 321.5,65.9 322.0,66.1 322.6,66.3 323.2,66.6 323.8,66.9 324.3,67.2 324.8,67.6 325.4,67.9 325.9,68.3 326.4,68.6 326.9,69.0 327.4,69.4 327.9,69.7 328.4,70.1 328.9,70.5 329.3,70.9 329.8,71.4 330.3,71.8 330.8,72.2 331.3,72.7 331.8,73.1 332.3,73.6 332.7,74.0 333.2,74.4 333.6,74.8 334.0,75.2 334.5,75.7 334.9,76.1 335.4,76.5 335.8,77.0 336.2,77.4 336.7,77.8 337.1,78.3 337.6,78.7 338.0,79.2 338.5,79.6 338.9,80.1 339.3,80.5 339.8,81.0 340.2,81.4 340.7,81.9 341.1,82.3 341.5,82.8 342.0,83.3 342.4,83.7 342.9,84.2 343.3,84.7 343.7,85.1 344.2,85.6 344.6,86.0 345.1,86.5 345.5,87.0 345.9,87.5 346.4,87.9 346.8,88.4 347.3,88.9 347.7,89.3 348.1,89.8 348.6,90.3 349.0,90.7 349.5,91.2 349.9,91.7 350.4,92.2 350.8,92.6 351.2,93.1 351.7,93.6 352.1,94.1 352.6,94.5 353.0,95.0 353.4,95.5 353.9,96.0 354.3,96.4 354.8,96.9 355.2,97.4 355.6,97.9 356.1,98.3 356.5,98.8 357.0,99.3 357.4,99.8 357.8,100.2 358.3,100.7 358.7,101.2 359.2,101.7 359.6,102.1 360.0,102.6 360.5,103.1 360.9,103.6 361.4,104.0 361.8,104.5 362.3,105.0 362.7,105.5 363.1,106.0 363.6,106.4 364.0,106.9 364.5,107.4 364.9,107.9 365.3,108.3 365.8,108.8 366.2,109.3 366.7,109.8 367.1,110.3 367.5,110.7 368.0,111.2 368.4,111.7 368.9,112.2 369.3,112.6 369.7,113.1 370.2,113.6 370.6,114.1 371.1,114.6 371.5,115.0 371.9,115.5 372.4,116.0 372.8,116.5 373.3,116.9 373.7,117.4 374.2,117.9 374.6,118.4 375.0,118.9 375.5,119.3 375.9,119.8 376.4,120.3 376.8,120.8 377.2,121.2 377.7,121.7 378.1,122.2 378.6,122.7 379.0,123.2 379.4,123.6 379.9,124.1 380.3,124.6 380.8,125.1 381.2,125.5 381.6,126.0 382.1,126.5 382.5,127.0 383.0,127.5 383.4,127.9 383.8,128.4 384.3,128.9 384.7,129.4 385.2,129.8 385.6,130.3 386.0,130.8 386.5,131.3 386.9,131.8 387.4,132.2 387.8,132.7 388.3,133.2 388.7,133.7 389.1,134.2 389.6,134.6 390.0,135.1 390.5,135.6 390.9,136.1 391.3,136.5 391.8,137.0 392.2,137.5 392.7,138.0 393.1,138.5 393.5,138.9 394.0,139.4 394.4,139.9 394.9,140.4 395.3,140.8 395.7,141.3 396.2,141.8 396.6,142.3 397.1,142.8 397.5,143.2 397.9,143.7 398.4,144.2 398.8,144.7 399.3,145.1 399.7,145.6 400.2,146.1 400.6,146.6 401.0,147.1 401.5,147.5 401.9,148.0 402.4,148.5 402.8,149.0 403.2,149.5 403.7,149.9 404.1,150.4 404.6,150.9 405.0,151.4"/>
<line x1="439.6" y1="190" x2="439.6" y2="211.8" stroke="#ff0a0a" stroke-width="1.1"/>
<line x1="467.9" y1="180" x2="467.9" y2="188.5" stroke="#ff0a0a" stroke-width="1.1"/>
<line x1="499.5" y1="186" x2="499.5" y2="198.4" stroke="#ff0a0a" stroke-width="1.1"/>
<line x1="541.2" y1="190" x2="541.2" y2="199.6" stroke="#ff0a0a" stroke-width="1.1"/>
<g font-family="'Liberation Sans', sans-serif" fill="#1e1e1e" stroke="#1e1e1e" stroke-width="0.12"><text transform="translate(303.80,226.90) scale(0.87,1)" text-anchor="end" font-size="10.6" >-20</text><text transform="translate(303.80,184.30) scale(0.87,1)" text-anchor="end" font-size="10.6" >-15</text><text transform="translate(303.80,141.70) scale(0.87,1)" text-anchor="end" font-size="10.6" >-10</text><text transform="translate(303.80,99.10) scale(0.87,1)" text-anchor="end" font-size="10.6" >-5</text><text transform="translate(303.80,56.50) scale(0.87,1)" text-anchor="end" font-size="10.6" >0</text><text transform="translate(303.80,13.90) scale(0.87,1)" text-anchor="end" font-size="10.6" >5</text><text transform="translate(306.80,236.30) scale(0.87,1)" text-anchor="middle" font-size="10.6" >0</text><text transform="translate(385.33,236.30) scale(0.87,1)" text-anchor="middle" font-size="10.6" >5</text><text transform="translate(463.87,236.30) scale(0.87,1)" text-anchor="middle" font-size="10.6" >10</text><text transform="translate(542.40,236.30) scale(0.87,1)" text-anchor="middle" font-size="10.6" >15</text></g>
<text x="318.4" y="23.8" font-size="9.6" letter-spacing="0.25" font-family="'Liberation Sans', sans-serif" fill="#1e1e1e" stroke="#1e1e1e" stroke-width="0.15">log(||e(t)||<tspan font-size="6.3" dy="1.7">2</tspan><tspan dy="-1.7" dx="0.6">)</tspan></text>
<rect x="480.7" y="14.8" width="56.00" height="47.60" fill="#fff" stroke="#a3a3a3" stroke-width="0.9"/>
<line x1="482.2" y1="21.7" x2="495.4" y2="21.7" fill="none" stroke="#12901a" stroke-width="1.45" stroke-dasharray="3.6 1.3 1.6 1.3"/>
<text x="496.6" y="25.20" font-family="'Liberation Sans', sans-serif" font-size="9.2" fill="#1e1e1e" stroke="#1e1e1e" stroke-width="0.25">GNN</text>
<line x1="482.2" y1="33.3" x2="495.4" y2="33.3" fill="none" stroke="#1f7acb" stroke-width="1.5" stroke-dasharray="4.3 4.2"/>
<text x="496.6" y="36.80" font-family="'Liberation Sans', sans-serif" font-size="9.2" fill="#1e1e1e" stroke="#1e1e1e" stroke-width="0.25">MZNN</text>
<line x1="482.2" y1="44.9" x2="495.4" y2="44.9" fill="none" stroke="#a2142f" stroke-width="1.45" stroke-dasharray="1.1 0.9"/>
<text x="496.6" y="48.40" font-family="'Liberation Sans', sans-serif" font-size="9.2" fill="#1e1e1e" stroke="#1e1e1e" stroke-width="0.25">NCZNN</text>
<line x1="482.2" y1="56.6" x2="495.4" y2="56.6" fill="none" stroke="#ff0a0a" stroke-width="1.7" stroke-linejoin="round"/>
<text x="496.6" y="60.10" font-family="'Liberation Sans', sans-serif" font-size="9.2" fill="#1e1e1e" stroke="#1e1e1e" stroke-width="0.25">ANAZNN</text>
<text font-family="'Liberation Sans', sans-serif" font-size="8.8" fill="#1e1e1e" x="140.5" y="249.8" text-anchor="middle">t(s)</text>
<text font-family="'Liberation Sans', sans-serif" font-size="8.8" fill="#1e1e1e" x="424.2" y="247.2" text-anchor="middle">t(s)</text>
<text font-family="'Liberation Serif', serif" font-weight="bold" font-size="14" fill="#111" x="143.2" y="271.8" text-anchor="middle">(a)</text>
<text font-family="'Liberation Serif', serif" font-weight="bold" font-size="14" fill="#111" x="419.3" y="271.8" text-anchor="middle">(b)</text>
</svg></body></html>
